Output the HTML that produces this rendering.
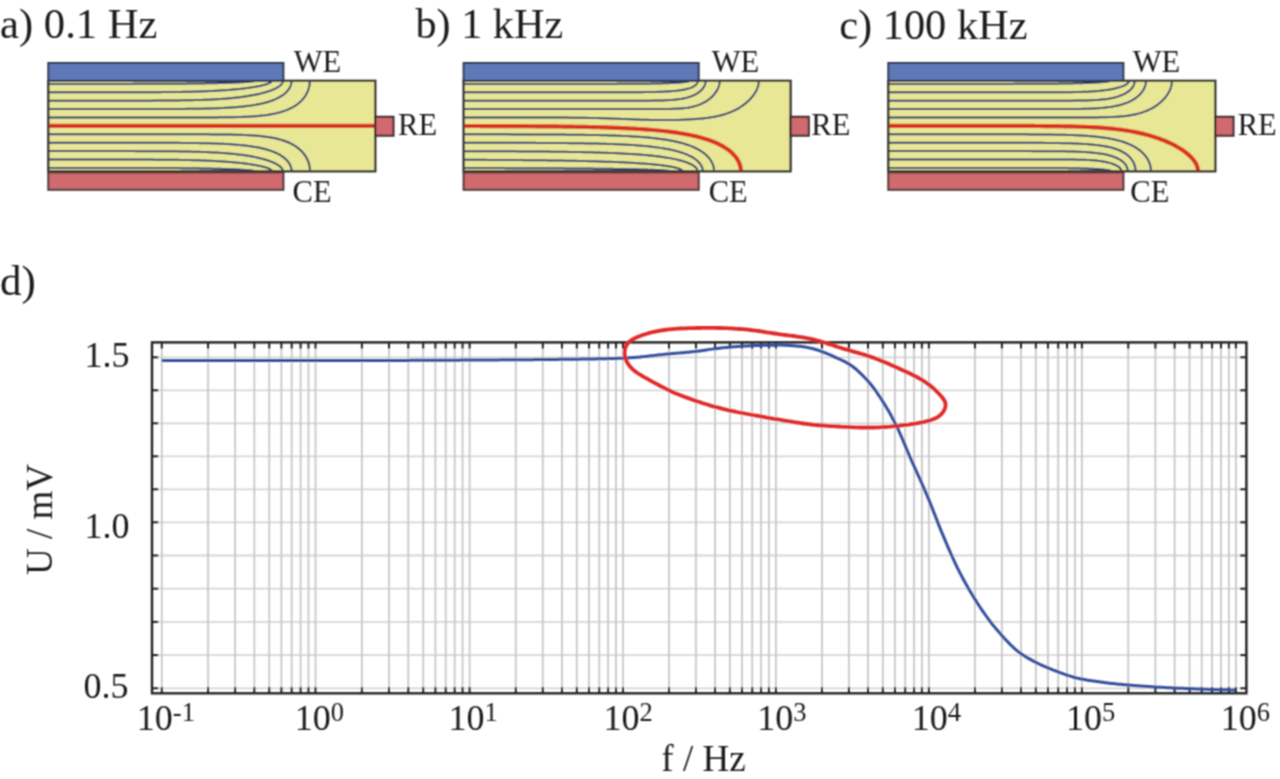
<!DOCTYPE html>
<html><head><meta charset="utf-8"><style>
html,body{margin:0;padding:0;background:#fff;width:1280px;height:779px;overflow:hidden}
svg{display:block}
text{font-family:"Liberation Serif", serif;}
</style></head><body>
<svg width="1280" height="779" viewBox="0 0 1280 779" font-family='"Liberation Serif", serif' fill="#1c1c1c">
<defs><filter id="bl" x="0" y="0" width="1280" height="779" filterUnits="userSpaceOnUse"><feConvolveMatrix order="3" kernelMatrix="1 2 1 2 4 2 1 2 1" divisor="16" edgeMode="duplicate"/></filter><filter id="bt" x="0" y="0" width="1280" height="779" filterUnits="userSpaceOnUse"><feConvolveMatrix order="3" kernelMatrix="1 2 1 2 4 2 1 2 1" divisor="16" edgeMode="duplicate"/></filter></defs>
<rect width="1280" height="779" fill="#fff"/>
<g filter="url(#bl)">
<g transform="translate(0.00,0)">
<rect x="48.3" y="80.8" width="327.00" height="90.50" fill="#e8e795" stroke="#3e3e38" stroke-width="2.0"/>
<clipPath id="clip0"><rect x="48.3" y="80.8" width="327.00" height="90.50"/></clipPath>
<g clip-path="url(#clip0)" fill="none">
<polyline points="48.30,83.90 51.76,83.90 55.19,83.90 58.59,83.90 61.96,83.90 65.30,83.90 68.62,83.90 71.90,83.90 75.16,83.90 78.38,83.90 81.58,83.90 84.75,83.90 87.89,83.90 90.99,83.90 94.07,83.90 97.13,83.90 100.15,83.90 103.14,83.89 106.10,83.89 109.04,83.89 111.94,83.89 114.82,83.89 117.66,83.89 120.48,83.89 123.27,83.88 126.03,83.88 128.76,83.88 131.46,83.88 134.13,83.87 136.77,83.87 139.38,83.86 141.97,83.86 144.52,83.85 147.04,83.85 149.54,83.84 152.01,83.84 154.45,83.83 156.85,83.82 159.23,83.81 161.58,83.80 163.90,83.79 166.20,83.78 168.46,83.77 170.69,83.75 172.90,83.74 175.07,83.73 177.22,83.71 179.33,83.69 181.42,83.68 183.48,83.66 185.51,83.64 187.51,83.62 189.48,83.60 191.42,83.58 193.33,83.55 195.21,83.53 197.07,83.50 198.89,83.48 200.69,83.45 202.45,83.42 204.19,83.39 205.90,83.36 207.58,83.33 209.23,83.30 210.85,83.27 212.44,83.24 214.00,83.20 215.53,83.17 217.03,83.13 218.51,83.09 219.95,83.06 221.37,83.02 222.76,82.98 224.11,82.94 225.44,82.90 226.74,82.86 228.01,82.82 229.25,82.78 230.46,82.73 231.65,82.69 232.80,82.65 233.92,82.60 235.02,82.56 236.08,82.51 237.12,82.47 238.13,82.42 239.10,82.38 240.05,82.33 240.97,82.29 241.86,82.24 242.72,82.19 243.56,82.15 244.36,82.10 245.13,82.05 245.88,82.00 246.59,81.96 247.28,81.91 247.94,81.86 248.56,81.81 249.16,81.77 249.73,81.72 250.27,81.67 250.78,81.62 251.26,81.57 251.72,81.52 252.14,81.48 252.53,81.43 252.90,81.38 253.23,81.33 253.54,81.28 253.82,81.24 254.07,81.19 254.28,81.14 254.47,81.09 254.64,81.04 254.77,80.99 254.87,80.95 254.94,80.90 254.99,80.85 255.00,80.80" stroke="#2a3778" stroke-width="2.0" stroke-linejoin="round"/>
<polyline points="48.30,92.30 52.04,92.30 55.75,92.30 59.42,92.30 63.07,92.30 66.68,92.30 70.26,92.30 73.81,92.30 77.33,92.30 80.81,92.30 84.27,92.30 87.69,92.30 91.08,92.30 94.44,92.30 97.77,92.29 101.07,92.29 104.34,92.29 107.57,92.29 110.77,92.29 113.94,92.29 117.08,92.28 120.19,92.28 123.27,92.28 126.31,92.27 129.32,92.27 132.31,92.26 135.26,92.25 138.17,92.25 141.06,92.24 143.92,92.23 146.74,92.22 149.53,92.20 152.29,92.19 155.02,92.17 157.72,92.16 160.39,92.14 163.02,92.12 165.62,92.09 168.20,92.07 170.74,92.04 173.24,92.01 175.72,91.97 178.17,91.94 180.58,91.90 182.96,91.86 185.31,91.81 187.63,91.76 189.92,91.71 192.17,91.66 194.40,91.60 196.59,91.53 198.75,91.47 200.88,91.40 202.98,91.32 205.05,91.25 207.08,91.16 209.09,91.08 211.06,90.99 213.00,90.90 214.91,90.80 216.78,90.70 218.63,90.59 220.44,90.48 222.23,90.37 223.98,90.26 225.70,90.14 227.39,90.01 229.04,89.89 230.67,89.76 232.26,89.62 233.82,89.49 235.35,89.35 236.85,89.20 238.32,89.06 239.75,88.91 241.16,88.76 242.53,88.60 243.87,88.45 245.18,88.29 246.46,88.13 247.71,87.96 248.92,87.80 250.10,87.63 251.25,87.46 252.37,87.29 253.46,87.12 254.52,86.94 255.55,86.77 256.54,86.59 257.50,86.41 258.43,86.23 259.33,86.05 260.20,85.87 261.04,85.69 261.84,85.50 262.61,85.32 263.35,85.13 264.06,84.95 264.74,84.76 265.39,84.58 266.00,84.39 266.59,84.20 267.14,84.02 267.66,83.83 268.15,83.64 268.61,83.45 269.03,83.26 269.43,83.07 269.79,82.88 270.12,82.70 270.42,82.51 270.69,82.32 270.93,82.13 271.13,81.94 271.31,81.75 271.45,81.56 271.56,81.37 271.64,81.18 271.68,80.99 271.70,80.80" stroke="#2a3778" stroke-width="2.0" stroke-linejoin="round"/>
<polyline points="48.30,100.70 52.23,100.70 56.12,100.70 59.98,100.70 63.81,100.70 67.60,100.70 71.36,100.70 75.09,100.70 78.78,100.70 82.44,100.70 86.07,100.70 89.67,100.70 93.23,100.70 96.76,100.70 100.25,100.70 103.72,100.70 107.14,100.70 110.54,100.69 113.90,100.69 117.23,100.69 120.53,100.69 123.79,100.69 127.02,100.68 130.22,100.68 133.39,100.68 136.52,100.67 139.62,100.67 142.68,100.66 145.71,100.65 148.71,100.64 151.68,100.63 154.61,100.62 157.51,100.61 160.37,100.59 163.21,100.57 166.01,100.55 168.77,100.53 171.51,100.50 174.21,100.48 176.87,100.45 179.51,100.41 182.11,100.37 184.68,100.33 187.21,100.28 189.71,100.23 192.18,100.18 194.62,100.12 197.02,100.05 199.39,99.98 201.72,99.91 204.03,99.82 206.30,99.74 208.53,99.64 210.74,99.54 212.91,99.44 215.04,99.32 217.15,99.20 219.22,99.08 221.26,98.94 223.26,98.80 225.23,98.65 227.17,98.50 229.08,98.34 230.95,98.17 232.79,97.99 234.59,97.81 236.36,97.61 238.10,97.42 239.81,97.21 241.48,97.00 243.12,96.78 244.73,96.55 246.30,96.32 247.85,96.08 249.35,95.83 250.83,95.58 252.27,95.32 253.68,95.06 255.05,94.79 256.39,94.51 257.70,94.23 258.98,93.94 260.22,93.65 261.43,93.35 262.61,93.05 263.75,92.74 264.86,92.43 265.94,92.12 266.98,91.80 267.99,91.48 268.97,91.15 269.91,90.82 270.82,90.49 271.70,90.15 272.55,89.81 273.36,89.47 274.14,89.13 274.88,88.78 275.59,88.43 276.27,88.08 276.92,87.73 277.53,87.37 278.11,87.02 278.66,86.66 279.17,86.30 279.65,85.94 280.10,85.58 280.51,85.21 280.90,84.85 281.24,84.48 281.56,84.12 281.84,83.75 282.09,83.38 282.30,83.02 282.49,82.65 282.63,82.28 282.75,81.91 282.83,81.54 282.88,81.17 282.90,80.80" stroke="#2a3778" stroke-width="2.0" stroke-linejoin="round"/>
<polyline points="48.30,109.10 52.37,109.10 56.41,109.10 60.41,109.10 64.37,109.10 68.31,109.10 72.21,109.10 76.07,109.10 79.90,109.10 83.70,109.10 87.46,109.10 91.18,109.10 94.88,109.10 98.53,109.10 102.16,109.10 105.75,109.10 109.30,109.09 112.82,109.09 116.31,109.09 119.76,109.09 123.18,109.09 126.56,109.09 129.91,109.08 133.23,109.08 136.51,109.08 139.75,109.07 142.96,109.07 146.14,109.07 149.28,109.06 152.39,109.05 155.47,109.05 158.51,109.04 161.51,109.03 164.48,109.02 167.42,109.00 170.32,108.99 173.19,108.97 176.02,108.96 178.82,108.94 181.59,108.91 184.32,108.89 187.01,108.86 189.68,108.83 192.30,108.80 194.90,108.76 197.46,108.72 199.98,108.68 202.47,108.63 204.93,108.57 207.35,108.52 209.73,108.45 212.09,108.38 214.41,108.31 216.69,108.23 218.94,108.14 221.16,108.05 223.34,107.95 225.48,107.84 227.60,107.73 229.67,107.60 231.72,107.47 233.73,107.33 235.70,107.18 237.64,107.02 239.55,106.86 241.42,106.68 243.26,106.49 245.06,106.29 246.83,106.08 248.57,105.86 250.27,105.63 251.93,105.39 253.56,105.13 255.16,104.87 256.72,104.59 258.25,104.30 259.75,104.00 261.21,103.68 262.63,103.36 264.02,103.02 265.38,102.66 266.70,102.30 267.99,101.92 269.24,101.53 270.46,101.13 271.65,100.72 272.80,100.29 273.91,99.85 275.00,99.40 276.04,98.93 277.06,98.46 278.04,97.97 278.98,97.47 279.89,96.96 280.77,96.44 281.61,95.90 282.41,95.36 283.19,94.81 283.93,94.24 284.63,93.67 285.30,93.08 285.94,92.49 286.54,91.89 287.10,91.28 287.64,90.67 288.13,90.04 288.60,89.41 289.03,88.78 289.42,88.13 289.78,87.48 290.11,86.83 290.40,86.17 290.66,85.51 290.88,84.84 291.07,84.17 291.23,83.50 291.35,82.83 291.43,82.15 291.48,81.48 291.50,80.80" stroke="#2a3778" stroke-width="2.0" stroke-linejoin="round"/>
<polyline points="48.30,117.50 52.68,117.50 57.02,117.50 61.32,117.50 65.58,117.50 69.81,117.50 74.00,117.50 78.16,117.50 82.28,117.50 86.36,117.50 90.40,117.50 94.41,117.50 98.38,117.50 102.31,117.50 106.21,117.50 110.07,117.50 113.89,117.50 117.68,117.50 121.43,117.50 125.14,117.50 128.81,117.50 132.45,117.50 136.05,117.50 139.62,117.50 143.14,117.50 146.63,117.50 150.09,117.50 153.50,117.50 156.88,117.50 160.22,117.50 163.53,117.50 166.80,117.50 170.03,117.50 173.22,117.50 176.38,117.49 179.50,117.49 182.59,117.49 185.63,117.49 188.64,117.49 191.62,117.48 194.55,117.48 197.45,117.47 200.31,117.47 203.14,117.46 205.93,117.45 208.68,117.44 211.39,117.42 214.07,117.41 216.71,117.39 219.32,117.37 221.88,117.34 224.41,117.31 226.91,117.28 229.36,117.24 231.78,117.19 234.16,117.14 236.51,117.08 238.82,117.02 241.09,116.94 243.32,116.86 245.52,116.77 247.68,116.67 249.80,116.55 251.89,116.43 253.94,116.29 255.95,116.14 257.93,115.97 259.87,115.79 261.77,115.59 263.63,115.38 265.46,115.15 267.25,114.90 269.01,114.64 270.73,114.35 272.41,114.05 274.05,113.73 275.66,113.38 277.23,113.02 278.76,112.63 280.25,112.23 281.71,111.80 283.13,111.35 284.52,110.88 285.87,110.38 287.18,109.86 288.45,109.33 289.69,108.77 290.89,108.18 292.05,107.58 293.18,106.95 294.27,106.31 295.32,105.64 296.34,104.95 297.32,104.24 298.26,103.51 299.16,102.77 300.03,102.00 300.86,101.22 301.66,100.41 302.41,99.60 303.13,98.76 303.82,97.91 304.46,97.04 305.07,96.16 305.65,95.27 306.18,94.36 306.68,93.45 307.14,92.52 307.57,91.58 307.95,90.63 308.30,89.67 308.62,88.70 308.90,87.73 309.14,86.75 309.34,85.77 309.50,84.78 309.63,83.79 309.73,82.79 309.78,81.80 309.80,80.80" stroke="#2a3778" stroke-width="2.0" stroke-linejoin="round"/>
<polyline points="48.30,167.90 51.76,167.90 55.19,167.90 58.59,167.90 61.96,167.90 65.30,167.90 68.62,167.90 71.90,167.90 75.16,167.90 78.38,167.90 81.58,167.90 84.75,167.90 87.89,167.90 90.99,167.90 94.07,167.90 97.13,167.90 100.15,167.90 103.14,167.91 106.10,167.91 109.04,167.91 111.94,167.91 114.82,167.91 117.66,167.91 120.48,167.91 123.27,167.92 126.03,167.92 128.76,167.92 131.46,167.93 134.13,167.93 136.77,167.93 139.38,167.94 141.97,167.94 144.52,167.95 147.04,167.96 149.54,167.96 152.01,167.97 154.45,167.98 156.85,167.99 159.23,168.00 161.58,168.01 163.90,168.02 166.20,168.03 168.46,168.05 170.69,168.06 172.90,168.07 175.07,168.09 177.22,168.11 179.33,168.12 181.42,168.14 183.48,168.16 185.51,168.18 187.51,168.21 189.48,168.23 191.42,168.25 193.33,168.28 195.21,168.31 197.07,168.33 198.89,168.36 200.69,168.39 202.45,168.42 204.19,168.45 205.90,168.49 207.58,168.52 209.23,168.56 210.85,168.59 212.44,168.63 214.00,168.67 215.53,168.70 217.03,168.74 218.51,168.78 219.95,168.83 221.37,168.87 222.76,168.91 224.11,168.95 225.44,169.00 226.74,169.04 228.01,169.09 229.25,169.13 230.46,169.18 231.65,169.23 232.80,169.27 233.92,169.32 235.02,169.37 236.08,169.42 237.12,169.47 238.13,169.52 239.10,169.57 240.05,169.62 240.97,169.67 241.86,169.72 242.72,169.77 243.56,169.82 244.36,169.88 245.13,169.93 245.88,169.98 246.59,170.03 247.28,170.08 247.94,170.14 248.56,170.19 249.16,170.24 249.73,170.29 250.27,170.35 250.78,170.40 251.26,170.45 251.72,170.50 252.14,170.56 252.53,170.61 252.90,170.66 253.23,170.72 253.54,170.77 253.82,170.82 254.07,170.88 254.28,170.93 254.47,170.98 254.64,171.03 254.77,171.09 254.87,171.14 254.94,171.19 254.99,171.25 255.00,171.30" stroke="#2a3778" stroke-width="2.0" stroke-linejoin="round"/>
<polyline points="48.30,159.50 52.04,159.50 55.76,159.50 59.44,159.50 63.09,159.50 66.70,159.50 70.29,159.50 73.84,159.50 77.37,159.50 80.86,159.50 84.32,159.50 87.74,159.50 91.14,159.50 94.51,159.50 97.84,159.51 101.14,159.51 104.41,159.51 107.65,159.51 110.86,159.51 114.03,159.51 117.17,159.52 120.29,159.52 123.37,159.52 126.42,159.53 129.43,159.53 132.42,159.54 135.37,159.55 138.29,159.55 141.19,159.56 144.05,159.57 146.87,159.58 149.67,159.60 152.43,159.61 155.17,159.63 157.87,159.65 160.54,159.67 163.18,159.69 165.78,159.71 168.36,159.74 170.90,159.77 173.41,159.80 175.89,159.83 178.34,159.87 180.76,159.91 183.14,159.95 185.50,160.00 187.82,160.05 190.11,160.10 192.37,160.16 194.60,160.22 196.79,160.28 198.96,160.35 201.09,160.42 203.19,160.50 205.26,160.58 207.30,160.66 209.30,160.75 211.28,160.84 213.22,160.94 215.13,161.04 217.01,161.14 218.86,161.25 220.68,161.36 222.46,161.47 224.21,161.59 225.94,161.72 227.63,161.84 229.29,161.97 230.91,162.11 232.51,162.24 234.07,162.38 235.60,162.53 237.10,162.67 238.57,162.82 240.01,162.98 241.42,163.13 242.79,163.29 244.13,163.45 245.45,163.61 246.72,163.78 247.97,163.95 249.19,164.12 250.37,164.29 251.53,164.46 252.65,164.64 253.74,164.82 254.80,164.99 255.82,165.18 256.82,165.36 257.78,165.54 258.71,165.72 259.62,165.91 260.48,166.10 261.32,166.28 262.13,166.47 262.90,166.66 263.64,166.85 264.35,167.04 265.03,167.23 265.68,167.42 266.30,167.61 266.88,167.81 267.43,168.00 267.96,168.19 268.45,168.38 268.90,168.58 269.33,168.77 269.73,168.97 270.09,169.16 270.42,169.35 270.72,169.55 270.99,169.74 271.23,169.94 271.43,170.13 271.61,170.33 271.75,170.52 271.86,170.72 271.94,170.91 271.98,171.11 272.00,171.30" stroke="#2a3778" stroke-width="2.0" stroke-linejoin="round"/>
<polyline points="48.30,151.10 52.22,151.10 56.12,151.10 59.97,151.10 63.80,151.10 67.59,151.10 71.35,151.10 75.08,151.10 78.77,151.10 82.43,151.10 86.06,151.10 89.65,151.10 93.21,151.10 96.74,151.10 100.23,151.10 103.69,151.10 107.12,151.10 110.51,151.11 113.88,151.11 117.20,151.11 120.50,151.11 123.76,151.11 126.99,151.12 130.19,151.12 133.35,151.12 136.48,151.13 139.58,151.14 142.64,151.14 145.67,151.15 148.67,151.16 151.63,151.17 154.56,151.18 157.46,151.20 160.33,151.21 163.16,151.23 165.96,151.25 168.72,151.27 171.45,151.30 174.15,151.33 176.82,151.36 179.45,151.39 182.05,151.43 184.62,151.48 187.15,151.52 189.65,151.57 192.12,151.63 194.55,151.69 196.96,151.76 199.32,151.83 201.66,151.91 203.96,151.99 206.23,152.08 208.46,152.17 210.67,152.28 212.84,152.38 214.97,152.50 217.08,152.62 219.15,152.75 221.18,152.89 223.19,153.03 225.16,153.18 227.09,153.34 229.00,153.50 230.87,153.67 232.71,153.85 234.51,154.04 236.28,154.23 238.02,154.44 239.73,154.64 241.40,154.86 243.04,155.08 244.65,155.31 246.22,155.55 247.76,155.79 249.27,156.04 250.74,156.30 252.18,156.56 253.59,156.83 254.96,157.11 256.30,157.39 257.61,157.67 258.89,157.96 260.13,158.26 261.34,158.56 262.51,158.87 263.66,159.18 264.77,159.49 265.84,159.81 266.89,160.14 267.90,160.46 268.87,160.79 269.82,161.13 270.73,161.47 271.61,161.81 272.45,162.15 273.26,162.50 274.04,162.85 274.79,163.20 275.50,163.55 276.18,163.91 276.82,164.27 277.43,164.63 278.01,164.99 278.56,165.35 279.07,165.72 279.55,166.08 280.00,166.45 280.42,166.82 280.80,167.19 281.14,167.56 281.46,167.93 281.74,168.31 281.99,168.68 282.20,169.05 282.39,169.43 282.54,169.80 282.65,170.17 282.73,170.55 282.78,170.92 282.80,171.30" stroke="#2a3778" stroke-width="2.0" stroke-linejoin="round"/>
<polyline points="48.30,142.70 52.37,142.70 56.41,142.70 60.41,142.70 64.38,142.70 68.32,142.70 72.22,142.70 76.08,142.70 79.91,142.70 83.71,142.70 87.47,142.70 91.20,142.70 94.89,142.70 98.55,142.70 102.18,142.70 105.77,142.70 109.33,142.71 112.85,142.71 116.34,142.71 119.79,142.71 123.21,142.71 126.59,142.71 129.94,142.72 133.26,142.72 136.54,142.72 139.79,142.73 143.00,142.73 146.18,142.73 149.32,142.74 152.43,142.75 155.51,142.75 158.55,142.76 161.56,142.77 164.53,142.78 167.47,142.80 170.37,142.81 173.24,142.83 176.08,142.85 178.88,142.87 181.64,142.89 184.37,142.91 187.07,142.94 189.73,142.97 192.36,143.00 194.96,143.04 197.52,143.08 200.04,143.13 202.53,143.18 204.99,143.23 207.41,143.29 209.80,143.35 212.16,143.42 214.47,143.50 216.76,143.58 219.01,143.67 221.23,143.76 223.41,143.86 225.56,143.97 227.67,144.09 229.75,144.21 231.79,144.34 233.80,144.49 235.78,144.64 237.72,144.80 239.63,144.97 241.50,145.15 243.34,145.34 245.14,145.54 246.91,145.75 248.65,145.97 250.35,146.20 252.01,146.45 253.65,146.71 255.25,146.97 256.81,147.26 258.34,147.55 259.83,147.85 261.29,148.17 262.72,148.50 264.11,148.84 265.47,149.20 266.79,149.57 268.08,149.95 269.33,150.34 270.55,150.75 271.74,151.17 272.89,151.60 274.01,152.05 275.09,152.50 276.14,152.97 277.15,153.45 278.13,153.95 279.08,154.45 279.99,154.97 280.86,155.50 281.70,156.03 282.51,156.58 283.28,157.14 284.02,157.71 284.73,158.29 285.40,158.88 286.03,159.48 286.63,160.09 287.20,160.70 287.73,161.33 288.23,161.96 288.70,162.59 289.13,163.24 289.52,163.89 289.88,164.54 290.21,165.20 290.50,165.87 290.76,166.54 290.98,167.21 291.17,167.89 291.33,168.57 291.45,169.25 291.53,169.93 291.58,170.62 291.60,171.30" stroke="#2a3778" stroke-width="2.0" stroke-linejoin="round"/>
<polyline points="48.30,134.30 52.68,134.30 57.02,134.30 61.33,134.30 65.60,134.30 69.83,134.30 74.02,134.30 78.18,134.30 82.30,134.30 86.39,134.30 90.44,134.30 94.45,134.30 98.42,134.30 102.35,134.30 106.25,134.30 110.12,134.30 113.94,134.30 117.73,134.30 121.48,134.30 125.20,134.30 128.87,134.30 132.51,134.30 136.12,134.30 139.69,134.30 143.21,134.30 146.71,134.30 150.16,134.30 153.58,134.30 156.96,134.30 160.31,134.30 163.62,134.30 166.89,134.30 170.12,134.30 173.32,134.30 176.48,134.31 179.60,134.31 182.69,134.31 185.74,134.31 188.75,134.31 191.73,134.32 194.66,134.32 197.57,134.33 200.43,134.33 203.26,134.34 206.05,134.35 208.80,134.36 211.52,134.38 214.20,134.39 216.84,134.41 219.45,134.43 222.02,134.46 224.55,134.49 227.04,134.52 229.50,134.56 231.92,134.61 234.30,134.66 236.65,134.72 238.96,134.78 241.23,134.86 243.47,134.94 245.67,135.04 247.83,135.14 249.96,135.25 252.05,135.38 254.10,135.52 256.11,135.67 258.09,135.84 260.03,136.02 261.93,136.22 263.80,136.43 265.63,136.66 267.42,136.91 269.18,137.18 270.90,137.47 272.58,137.77 274.22,138.10 275.83,138.44 277.40,138.81 278.93,139.20 280.43,139.61 281.89,140.04 283.31,140.50 284.70,140.97 286.05,141.47 287.36,141.99 288.64,142.53 289.87,143.10 291.08,143.69 292.24,144.29 293.37,144.93 294.46,145.58 295.51,146.25 296.53,146.94 297.51,147.66 298.45,148.39 299.36,149.15 300.22,149.92 301.06,150.71 301.85,151.52 302.61,152.34 303.33,153.19 304.01,154.04 304.66,154.92 305.27,155.81 305.84,156.71 306.38,157.62 306.88,158.55 307.34,159.48 307.76,160.43 308.15,161.39 308.50,162.35 308.82,163.33 309.09,164.31 309.33,165.30 309.54,166.29 309.70,167.29 309.83,168.29 309.93,169.29 309.98,170.29 310.00,171.30" stroke="#2a3778" stroke-width="2.0" stroke-linejoin="round"/>
<line x1="48.3" y1="125.9" x2="375.3" y2="125.9" stroke="#dc3024" stroke-width="4.2"/>
</g>
<rect x="48.3" y="80.8" width="327.00" height="90.50" fill="none" stroke="#3e3e38" stroke-width="2.0"/>
<rect x="48.3" y="63.0" width="235.10" height="17.80" fill="#5e78b8" stroke="#333a55" stroke-width="2.0"/>
<rect x="48.3" y="172.4" width="235.10" height="17.4" fill="#d06b6e" stroke="#4a3838" stroke-width="2.0"/>
<rect x="375.3" y="116.8" width="18.2" height="18.9" fill="#d06b6e" stroke="#3a2a2a" stroke-width="2.0"/>
<text x="293.77" y="72.3" font-size="30.5">WE</text>
<text x="398.12" y="135.3" font-size="30.5">RE</text>
<text x="292.55" y="202" font-size="30.5">CE</text>
</g>
<g transform="translate(415.30,0)">
<rect x="48.3" y="80.8" width="327.00" height="90.50" fill="#e8e795" stroke="#3e3e38" stroke-width="2.0"/>
<clipPath id="clip415"><rect x="48.3" y="80.8" width="327.00" height="90.50"/></clipPath>
<g clip-path="url(#clip415)" fill="none">
<polyline points="48.30,83.90 52.09,83.90 55.84,83.90 59.56,83.90 63.25,83.90 66.91,83.90 70.54,83.90 74.13,83.90 77.69,83.90 81.22,83.90 84.72,83.90 88.19,83.90 91.62,83.90 95.02,83.90 98.39,83.90 101.73,83.90 105.04,83.90 108.31,83.90 111.55,83.90 114.77,83.90 117.94,83.90 121.09,83.90 124.21,83.90 127.29,83.90 130.34,83.90 133.36,83.90 136.35,83.90 139.30,83.90 142.22,83.90 145.12,83.90 147.97,83.90 150.80,83.90 153.60,83.90 156.36,83.90 159.09,83.90 161.79,83.90 164.46,83.90 167.09,83.90 169.70,83.90 172.27,83.90 174.81,83.90 177.32,83.90 179.79,83.90 182.24,83.90 184.65,83.89 187.03,83.89 189.38,83.89 191.69,83.89 193.98,83.89 196.23,83.89 198.45,83.88 200.64,83.88 202.80,83.87 204.92,83.87 207.01,83.86 209.07,83.86 211.10,83.85 213.10,83.84 215.06,83.83 217.00,83.82 218.90,83.81 220.77,83.80 222.60,83.79 224.41,83.77 226.18,83.75 227.92,83.74 229.63,83.72 231.31,83.70 232.95,83.67 234.57,83.65 236.15,83.62 237.70,83.60 239.21,83.57 240.70,83.54 242.15,83.50 243.58,83.47 244.97,83.43 246.32,83.39 247.65,83.35 248.94,83.31 250.20,83.27 251.43,83.22 252.63,83.18 253.80,83.13 254.93,83.08 256.03,83.03 257.10,82.98 258.14,82.92 259.15,82.87 260.12,82.81 261.07,82.76 261.98,82.70 262.86,82.64 263.70,82.58 264.52,82.52 265.30,82.45 266.05,82.39 266.77,82.33 267.46,82.26 268.11,82.20 268.73,82.13 269.32,82.06 269.88,82.00 270.41,81.93 270.91,81.86 271.37,81.79 271.80,81.72 272.20,81.65 272.57,81.58 272.90,81.51 273.21,81.44 273.48,81.37 273.72,81.30 273.92,81.23 274.10,81.16 274.24,81.09 274.36,81.01 274.44,80.94 274.48,80.87 274.50,80.80" stroke="#2a3778" stroke-width="2.0" stroke-linejoin="round"/>
<polyline points="48.30,92.30 52.22,92.30 56.11,92.30 59.96,92.30 63.78,92.30 67.57,92.30 71.32,92.30 75.04,92.30 78.73,92.30 82.39,92.30 86.01,92.30 89.60,92.30 93.15,92.30 96.67,92.30 100.16,92.30 103.62,92.30 107.04,92.30 110.43,92.30 113.79,92.30 117.12,92.30 120.41,92.30 123.67,92.30 126.89,92.30 130.08,92.30 133.24,92.30 136.37,92.30 139.46,92.30 142.52,92.30 145.55,92.30 148.54,92.30 151.50,92.30 154.43,92.30 157.32,92.30 160.18,92.30 163.01,92.30 165.81,92.30 168.57,92.30 171.30,92.30 173.99,92.29 176.65,92.29 179.28,92.29 181.88,92.29 184.44,92.29 186.97,92.29 189.47,92.29 191.94,92.28 194.37,92.28 196.77,92.28 199.13,92.27 201.46,92.27 203.76,92.26 206.03,92.26 208.26,92.25 210.46,92.24 212.63,92.24 214.76,92.23 216.86,92.22 218.93,92.20 220.96,92.19 222.96,92.18 224.93,92.16 226.86,92.14 228.77,92.12 230.64,92.10 232.47,92.07 234.27,92.04 236.04,92.01 237.78,91.97 239.48,91.94 241.15,91.89 242.79,91.85 244.40,91.80 245.97,91.74 247.50,91.68 249.01,91.62 250.48,91.55 251.92,91.47 253.33,91.39 254.70,91.30 256.04,91.20 257.35,91.10 258.62,90.99 259.86,90.88 261.07,90.75 262.24,90.62 263.38,90.48 264.49,90.33 265.56,90.18 266.61,90.01 267.62,89.83 268.59,89.65 269.53,89.46 270.44,89.26 271.32,89.04 272.16,88.82 272.97,88.59 273.75,88.35 274.50,88.10 275.21,87.85 275.88,87.58 276.53,87.30 277.14,87.02 277.72,86.72 278.27,86.42 278.78,86.11 279.26,85.80 279.71,85.47 280.12,85.14 280.50,84.80 280.85,84.46 281.16,84.11 281.44,83.75 281.69,83.40 281.90,83.03 282.09,82.67 282.24,82.30 282.35,81.92 282.43,81.55 282.48,81.18 282.50,80.80" stroke="#2a3778" stroke-width="2.0" stroke-linejoin="round"/>
<polyline points="48.30,100.70 52.35,100.70 56.37,100.70 60.35,100.70 64.30,100.70 68.21,100.70 72.09,100.70 75.93,100.70 79.74,100.70 83.52,100.70 87.26,100.70 90.97,100.70 94.65,100.70 98.29,100.70 101.89,100.70 105.46,100.70 109.00,100.70 112.50,100.70 115.97,100.70 119.41,100.70 122.81,100.70 126.18,100.70 129.51,100.70 132.81,100.70 136.07,100.70 139.30,100.70 142.50,100.70 145.66,100.70 148.78,100.70 151.88,100.70 154.94,100.70 157.96,100.70 160.95,100.70 163.91,100.70 166.83,100.70 169.72,100.70 172.57,100.70 175.39,100.70 178.18,100.70 180.93,100.70 183.65,100.70 186.33,100.70 188.98,100.70 191.59,100.70 194.17,100.70 196.72,100.70 199.23,100.70 201.71,100.70 204.15,100.70 206.56,100.70 208.94,100.70 211.28,100.70 213.59,100.70 215.86,100.69 218.10,100.69 220.30,100.69 222.47,100.69 224.61,100.68 226.71,100.68 228.78,100.67 230.81,100.66 232.81,100.65 234.78,100.63 236.71,100.61 238.61,100.59 240.47,100.56 242.30,100.53 244.09,100.49 245.85,100.45 247.58,100.40 249.27,100.34 250.93,100.27 252.55,100.19 254.14,100.10 255.69,99.99 257.22,99.88 258.70,99.75 260.15,99.61 261.57,99.45 262.96,99.28 264.31,99.09 265.62,98.88 266.90,98.66 268.15,98.42 269.37,98.17 270.54,97.89 271.69,97.60 272.80,97.29 273.88,96.97 274.92,96.62 275.93,96.26 276.90,95.89 277.84,95.49 278.75,95.08 279.62,94.66 280.46,94.22 281.26,93.77 282.03,93.30 282.76,92.82 283.46,92.33 284.13,91.82 284.76,91.30 285.36,90.78 285.93,90.24 286.45,89.69 286.95,89.14 287.41,88.57 287.84,88.00 288.23,87.43 288.59,86.84 288.92,86.25 289.21,85.66 289.46,85.06 289.68,84.46 289.87,83.85 290.03,83.25 290.15,82.64 290.23,82.03 290.28,81.41 290.30,80.80" stroke="#2a3778" stroke-width="2.0" stroke-linejoin="round"/>
<polyline points="48.30,109.10 52.59,109.10 56.84,109.10 61.05,109.10 65.23,109.10 69.37,109.10 73.47,109.10 77.54,109.10 81.58,109.10 85.57,109.10 89.53,109.10 93.46,109.10 97.35,109.10 101.20,109.10 105.01,109.10 108.79,109.10 112.54,109.10 116.24,109.10 119.92,109.10 123.55,109.10 127.15,109.10 130.71,109.10 134.24,109.10 137.73,109.10 141.18,109.10 144.60,109.10 147.98,109.10 151.33,109.10 154.64,109.10 157.91,109.10 161.15,109.10 164.35,109.10 167.52,109.10 170.64,109.10 173.74,109.10 176.79,109.10 179.81,109.10 182.80,109.10 185.75,109.10 188.66,109.10 191.53,109.10 194.37,109.10 197.17,109.10 199.94,109.10 202.67,109.10 205.37,109.10 208.03,109.10 210.65,109.10 213.23,109.10 215.78,109.10 218.30,109.10 220.78,109.10 223.22,109.10 225.62,109.10 227.99,109.10 230.32,109.10 232.62,109.09 234.88,109.09 237.11,109.09 239.29,109.08 241.45,109.08 243.56,109.07 245.64,109.05 247.69,109.04 249.69,109.02 251.66,108.99 253.60,108.95 255.50,108.91 257.36,108.86 259.19,108.79 260.98,108.71 262.73,108.62 264.45,108.51 266.13,108.38 267.78,108.23 269.39,108.06 270.96,107.87 272.50,107.65 274.00,107.40 275.46,107.13 276.89,106.82 278.29,106.49 279.64,106.14 280.96,105.75 282.25,105.33 283.49,104.88 284.71,104.41 285.88,103.91 287.02,103.38 288.12,102.83 289.19,102.25 290.22,101.65 291.22,101.03 292.17,100.39 293.10,99.73 293.98,99.05 294.83,98.36 295.65,97.65 296.42,96.93 297.17,96.20 297.87,95.47 298.54,94.72 299.17,93.96 299.77,93.21 300.33,92.44 300.86,91.67 301.34,90.90 301.80,90.13 302.21,89.35 302.59,88.57 302.94,87.80 303.24,87.02 303.51,86.24 303.75,85.46 303.95,84.69 304.11,83.91 304.24,83.13 304.33,82.35 304.38,81.58 304.40,80.80" stroke="#2a3778" stroke-width="2.0" stroke-linejoin="round"/>
<polyline points="48.30,117.50 53.24,117.50 58.14,117.50 63.00,117.50 67.81,117.50 72.59,117.50 77.32,117.50 82.01,117.50 86.66,117.50 91.26,117.50 95.83,117.50 100.35,117.50 104.83,117.50 109.27,117.50 113.67,117.51 118.03,117.51 122.34,117.51 126.62,117.52 130.85,117.52 135.04,117.53 139.19,117.54 143.30,117.56 147.36,117.58 151.38,117.60 155.36,117.63 159.30,117.67 163.20,117.72 167.06,117.77 170.87,117.83 174.65,117.90 178.38,117.98 182.07,118.07 185.72,118.16 189.32,118.27 192.89,118.38 196.41,118.51 199.89,118.63 203.33,118.77 206.73,118.90 210.09,119.04 213.40,119.17 216.67,119.30 219.90,119.43 223.09,119.55 226.24,119.66 229.35,119.76 232.41,119.85 235.43,119.92 238.42,119.98 241.35,120.03 244.25,120.07 247.11,120.08 249.92,120.09 252.69,120.08 255.43,120.05 258.11,120.01 260.76,119.95 263.37,119.88 265.93,119.80 268.45,119.71 270.94,119.60 273.37,119.48 275.77,119.34 278.13,119.19 280.44,119.02 282.71,118.84 284.94,118.64 287.13,118.42 289.28,118.18 291.39,117.93 293.45,117.65 295.47,117.34 297.45,117.02 299.39,116.66 301.29,116.29 303.14,115.88 304.96,115.44 306.73,114.98 308.46,114.49 310.15,113.97 311.79,113.42 313.40,112.84 314.96,112.23 316.48,111.60 317.96,110.94 319.40,110.25 320.80,109.54 322.15,108.81 323.47,108.05 324.74,107.28 325.97,106.48 327.16,105.67 328.30,104.84 329.41,104.00 330.47,103.15 331.49,102.28 332.47,101.41 333.41,100.53 334.31,99.64 335.16,98.74 335.97,97.85 336.75,96.94 337.48,96.04 338.16,95.14 338.81,94.23 339.41,93.32 339.98,92.42 340.50,91.52 340.98,90.61 341.42,89.71 341.81,88.82 342.17,87.92 342.48,87.02 342.75,86.13 342.98,85.24 343.17,84.35 343.31,83.46 343.42,82.57 343.48,81.69 343.50,80.80" stroke="#2a3778" stroke-width="2.0" stroke-linejoin="round"/>
<polyline points="48.30,168.03 51.76,168.04 55.19,168.04 58.59,168.05 61.96,168.06 65.30,168.06 68.62,168.07 71.90,168.08 75.16,168.08 78.38,168.09 81.58,168.10 84.75,168.11 87.89,168.12 90.99,168.13 94.07,168.14 97.13,168.15 100.15,168.15 103.14,168.17 106.10,168.18 109.04,168.19 111.94,168.20 114.82,168.21 117.66,168.22 120.48,168.23 123.27,168.25 126.03,168.26 128.76,168.27 131.46,168.28 134.13,168.30 136.77,168.31 139.38,168.33 141.97,168.34 144.52,168.36 147.04,168.37 149.54,168.39 152.01,168.41 154.45,168.42 156.85,168.44 159.23,168.46 161.58,168.48 163.90,168.50 166.20,168.52 168.46,168.54 170.69,168.56 172.90,168.58 175.07,168.60 177.22,168.62 179.33,168.64 181.42,168.66 183.48,168.69 185.51,168.71 187.51,168.73 189.48,168.76 191.42,168.78 193.33,168.81 195.21,168.83 197.07,168.86 198.89,168.89 200.69,168.91 202.45,168.94 204.19,168.97 205.90,169.00 207.58,169.03 209.23,169.06 210.85,169.09 212.44,169.12 214.00,169.15 215.53,169.18 217.03,169.21 218.51,169.24 219.95,169.28 221.37,169.31 222.76,169.34 224.11,169.38 225.44,169.41 226.74,169.45 228.01,169.48 229.25,169.52 230.46,169.55 231.65,169.59 232.80,169.63 233.92,169.66 235.02,169.70 236.08,169.74 237.12,169.78 238.13,169.82 239.10,169.86 240.05,169.90 240.97,169.94 241.86,169.98 242.72,170.02 243.56,170.06 244.36,170.10 245.13,170.14 245.88,170.18 246.59,170.23 247.28,170.27 247.94,170.31 248.56,170.35 249.16,170.40 249.73,170.44 250.27,170.49 250.78,170.53 251.26,170.57 251.72,170.62 252.14,170.66 252.53,170.71 252.90,170.75 253.23,170.80 253.54,170.84 253.82,170.89 254.07,170.93 254.28,170.98 254.47,171.02 254.64,171.07 254.77,171.12 254.87,171.16 254.94,171.21 254.99,171.25 255.00,171.30" stroke="#2a3778" stroke-width="2.0" stroke-linejoin="round"/>
<polyline points="48.30,159.76 51.96,159.78 55.60,159.79 59.20,159.81 62.77,159.82 66.31,159.84 69.82,159.86 73.30,159.88 76.74,159.89 80.16,159.92 83.54,159.94 86.90,159.96 90.22,159.98 93.51,160.00 96.78,160.03 100.01,160.05 103.21,160.08 106.38,160.11 109.51,160.14 112.62,160.17 115.70,160.20 118.74,160.23 121.76,160.26 124.74,160.30 127.69,160.33 130.61,160.37 133.50,160.41 136.36,160.45 139.19,160.49 141.99,160.53 144.76,160.58 147.49,160.62 150.20,160.67 152.87,160.71 155.52,160.76 158.13,160.82 160.71,160.87 163.26,160.92 165.78,160.98 168.27,161.04 170.73,161.09 173.15,161.16 175.55,161.22 177.91,161.28 180.25,161.35 182.55,161.42 184.82,161.49 187.07,161.56 189.28,161.63 191.46,161.71 193.60,161.78 195.72,161.86 197.81,161.94 199.87,162.02 201.89,162.11 203.88,162.20 205.85,162.28 207.78,162.37 209.68,162.47 211.55,162.56 213.39,162.66 215.20,162.76 216.98,162.86 218.72,162.96 220.44,163.06 222.12,163.17 223.78,163.28 225.40,163.39 226.99,163.50 228.56,163.61 230.09,163.73 231.58,163.85 233.05,163.97 234.49,164.09 235.90,164.21 237.27,164.34 238.62,164.47 239.93,164.60 241.22,164.73 242.47,164.86 243.69,165.00 244.88,165.13 246.04,165.27 247.17,165.41 248.26,165.56 249.33,165.70 250.37,165.84 251.37,165.99 252.34,166.14 253.29,166.29 254.20,166.44 255.08,166.60 255.93,166.75 256.75,166.91 257.54,167.06 258.30,167.22 259.02,167.38 259.72,167.54 260.38,167.71 261.02,167.87 261.62,168.03 262.19,168.20 262.73,168.37 263.24,168.53 263.72,168.70 264.17,168.87 264.59,169.04 264.97,169.21 265.33,169.38 265.65,169.56 265.95,169.73 266.21,169.90 266.44,170.08 266.64,170.25 266.81,170.42 266.95,170.60 267.06,170.77 267.14,170.95 267.18,171.12 267.20,171.30" stroke="#2a3778" stroke-width="2.0" stroke-linejoin="round"/>
<polyline points="48.30,151.19 52.21,151.20 56.10,151.21 59.94,151.22 63.76,151.23 67.54,151.24 71.29,151.25 75.01,151.26 78.69,151.27 82.34,151.29 85.96,151.30 89.54,151.32 93.09,151.33 96.61,151.35 100.10,151.37 103.55,151.39 106.97,151.41 110.36,151.43 113.71,151.45 117.03,151.47 120.31,151.50 123.57,151.53 126.79,151.56 129.98,151.59 133.13,151.62 136.25,151.65 139.34,151.69 142.40,151.73 145.42,151.77 148.41,151.81 151.37,151.85 154.29,151.90 157.18,151.95 160.04,152.00 162.86,152.05 165.65,152.11 168.41,152.17 171.14,152.23 173.83,152.29 176.49,152.36 179.12,152.43 181.71,152.50 184.27,152.58 186.80,152.66 189.29,152.74 191.75,152.83 194.18,152.92 196.57,153.01 198.94,153.11 201.27,153.21 203.56,153.32 205.82,153.43 208.05,153.54 210.25,153.66 212.41,153.78 214.55,153.91 216.64,154.04 218.71,154.17 220.74,154.31 222.74,154.45 224.70,154.60 226.64,154.75 228.54,154.91 230.40,155.08 232.24,155.24 234.04,155.42 235.80,155.59 237.54,155.78 239.24,155.96 240.91,156.15 242.54,156.35 244.14,156.55 245.71,156.76 247.25,156.97 248.75,157.19 250.22,157.42 251.66,157.64 253.06,157.88 254.43,158.11 255.77,158.36 257.08,158.61 258.35,158.86 259.59,159.12 260.79,159.38 261.97,159.65 263.11,159.92 264.21,160.20 265.29,160.48 266.33,160.76 267.33,161.06 268.31,161.35 269.25,161.65 270.16,161.96 271.03,162.26 271.88,162.58 272.69,162.89 273.46,163.21 274.21,163.54 274.92,163.86 275.59,164.19 276.24,164.53 276.85,164.86 277.43,165.20 277.97,165.55 278.48,165.89 278.96,166.24 279.41,166.59 279.82,166.95 280.20,167.30 280.55,167.66 280.86,168.02 281.14,168.38 281.39,168.74 281.61,169.10 281.79,169.47 281.94,169.83 282.05,170.20 282.13,170.57 282.18,170.93 282.20,171.30" stroke="#2a3778" stroke-width="2.0" stroke-linejoin="round"/>
<polyline points="48.30,142.73 52.30,142.73 56.27,142.73 60.21,142.74 64.11,142.74 67.98,142.74 71.81,142.75 75.61,142.75 79.38,142.76 83.11,142.77 86.81,142.77 90.48,142.78 94.11,142.79 97.71,142.80 101.27,142.81 104.80,142.82 108.30,142.83 111.76,142.84 115.19,142.85 118.59,142.87 121.95,142.88 125.27,142.90 128.57,142.92 131.83,142.94 135.05,142.96 138.25,142.98 141.41,143.01 144.53,143.03 147.62,143.06 150.68,143.09 153.70,143.13 156.69,143.16 159.65,143.20 162.57,143.24 165.46,143.28 168.31,143.33 171.13,143.38 173.92,143.43 176.68,143.48 179.39,143.54 182.08,143.61 184.73,143.67 187.35,143.74 189.93,143.82 192.49,143.90 195.00,143.98 197.49,144.07 199.93,144.16 202.35,144.26 204.73,144.37 207.08,144.48 209.39,144.59 211.67,144.72 213.92,144.84 216.13,144.98 218.31,145.12 220.46,145.26 222.57,145.42 224.65,145.58 226.69,145.75 228.70,145.93 230.68,146.11 232.62,146.30 234.53,146.50 236.40,146.71 238.24,146.92 240.05,147.15 241.83,147.38 243.57,147.62 245.27,147.87 246.94,148.13 248.58,148.40 250.19,148.68 251.76,148.97 253.29,149.27 254.80,149.57 256.27,149.89 257.70,150.22 259.11,150.55 260.47,150.90 261.81,151.25 263.11,151.62 264.38,151.99 265.61,152.37 266.81,152.77 267.97,153.17 269.11,153.58 270.20,154.01 271.27,154.44 272.30,154.88 273.29,155.33 274.26,155.79 275.19,156.25 276.08,156.73 276.94,157.21 277.77,157.71 278.56,158.21 279.32,158.72 280.05,159.23 280.74,159.76 281.40,160.29 282.03,160.83 282.62,161.37 283.18,161.92 283.70,162.48 284.19,163.04 284.65,163.61 285.07,164.18 285.46,164.76 285.81,165.34 286.13,165.92 286.42,166.51 286.67,167.10 286.89,167.70 287.08,168.29 287.23,168.89 287.35,169.49 287.43,170.09 287.48,170.70 287.50,171.30" stroke="#2a3778" stroke-width="2.0" stroke-linejoin="round"/>
<polyline points="48.30,134.32 52.49,134.32 56.65,134.33 60.77,134.33 64.86,134.33 68.91,134.34 72.92,134.34 76.90,134.35 80.85,134.35 84.76,134.36 88.63,134.36 92.47,134.37 96.27,134.38 100.04,134.39 103.77,134.40 107.47,134.41 111.13,134.42 114.76,134.43 118.35,134.44 121.91,134.46 125.43,134.47 128.91,134.49 132.36,134.51 135.77,134.53 139.15,134.55 142.50,134.57 145.80,134.60 149.08,134.62 152.31,134.65 155.52,134.69 158.68,134.72 161.81,134.76 164.91,134.80 167.97,134.84 170.99,134.89 173.98,134.94 176.94,134.99 179.86,135.05 182.74,135.11 185.59,135.18 188.40,135.25 191.18,135.32 193.92,135.40 196.63,135.49 199.30,135.58 201.93,135.68 204.53,135.78 207.10,135.89 209.63,136.00 212.12,136.12 214.58,136.25 217.00,136.39 219.39,136.53 221.74,136.68 224.06,136.84 226.34,137.01 228.59,137.19 230.80,137.37 232.98,137.57 235.12,137.77 237.22,137.99 239.29,138.21 241.33,138.45 243.33,138.69 245.29,138.95 247.22,139.22 249.11,139.49 250.97,139.79 252.79,140.09 254.58,140.40 256.33,140.73 258.04,141.07 259.72,141.42 261.37,141.78 262.98,142.16 264.55,142.55 266.09,142.96 267.60,143.37 269.06,143.80 270.50,144.25 271.89,144.70 273.26,145.17 274.58,145.66 275.87,146.16 277.13,146.67 278.35,147.19 279.54,147.73 280.69,148.28 281.80,148.84 282.88,149.42 283.92,150.01 284.93,150.61 285.90,151.23 286.84,151.86 287.74,152.50 288.61,153.15 289.44,153.81 290.24,154.48 291.00,155.17 291.72,155.86 292.41,156.57 293.07,157.28 293.69,158.01 294.27,158.74 294.82,159.48 295.33,160.23 295.81,160.99 296.25,161.76 296.66,162.53 297.03,163.31 297.37,164.09 297.67,164.88 297.93,165.67 298.16,166.47 298.36,167.27 298.52,168.07 298.64,168.88 298.73,169.68 298.78,170.49 298.80,171.30" stroke="#2a3778" stroke-width="2.0" stroke-linejoin="round"/>
<polyline points="48.30,125.99 52.94,126.00 57.54,126.01 62.11,126.02 66.63,126.03 71.11,126.04 75.56,126.05 79.96,126.07 84.33,126.08 88.66,126.10 92.95,126.12 97.20,126.14 101.41,126.16 105.58,126.18 109.71,126.20 113.80,126.23 117.86,126.26 121.87,126.29 125.84,126.32 129.78,126.35 133.68,126.39 137.53,126.43 141.35,126.47 145.13,126.52 148.87,126.57 152.57,126.62 156.24,126.67 159.86,126.73 163.44,126.80 166.99,126.86 170.49,126.93 173.96,127.01 177.38,127.09 180.77,127.17 184.12,127.26 187.43,127.36 190.70,127.46 193.93,127.56 197.12,127.67 200.28,127.79 203.39,127.91 206.46,128.05 209.50,128.18 212.49,128.33 215.45,128.48 218.37,128.64 221.25,128.81 224.09,128.99 226.89,129.17 229.65,129.36 232.37,129.57 235.05,129.78 237.70,130.00 240.30,130.23 242.87,130.47 245.39,130.72 247.88,130.98 250.33,131.25 252.74,131.54 255.10,131.83 257.44,132.14 259.73,132.45 261.98,132.78 264.19,133.12 266.36,133.47 268.50,133.84 270.59,134.22 272.65,134.61 274.67,135.01 276.65,135.43 278.58,135.86 280.48,136.30 282.34,136.75 284.16,137.22 285.95,137.71 287.69,138.20 289.39,138.71 291.06,139.23 292.68,139.77 294.27,140.32 295.82,140.88 297.32,141.46 298.79,142.05 300.22,142.66 301.61,143.27 302.96,143.90 304.28,144.55 305.55,145.20 306.78,145.87 307.98,146.56 309.13,147.25 310.25,147.96 311.32,148.67 312.36,149.40 313.36,150.15 314.32,150.90 315.24,151.66 316.12,152.43 316.96,153.22 317.77,154.01 318.53,154.82 319.26,155.63 319.94,156.45 320.59,157.28 321.19,158.11 321.76,158.96 322.29,159.81 322.78,160.67 323.23,161.53 323.64,162.40 324.01,163.28 324.35,164.16 324.64,165.04 324.90,165.93 325.11,166.82 325.29,167.71 325.42,168.61 325.52,169.50 325.58,170.40 325.60,171.30" stroke="#dc3024" stroke-width="4.2" stroke-linejoin="round"/>
</g>
<rect x="48.3" y="80.8" width="327.00" height="90.50" fill="none" stroke="#3e3e38" stroke-width="2.0"/>
<rect x="48.3" y="63.0" width="235.10" height="17.80" fill="#5e78b8" stroke="#333a55" stroke-width="2.0"/>
<rect x="48.3" y="172.4" width="235.10" height="17.4" fill="#d06b6e" stroke="#4a3838" stroke-width="2.0"/>
<rect x="375.3" y="116.8" width="18.2" height="18.9" fill="#d06b6e" stroke="#3a2a2a" stroke-width="2.0"/>
<text x="296.47" y="72.3" font-size="30.5">WE</text>
<text x="396.02" y="135.3" font-size="30.5">RE</text>
<text x="293.45" y="202" font-size="30.5">CE</text>
</g>
<g transform="translate(840.00,0)">
<rect x="48.3" y="80.8" width="327.00" height="90.50" fill="#e8e795" stroke="#3e3e38" stroke-width="2.0"/>
<clipPath id="clip840"><rect x="48.3" y="80.8" width="327.00" height="90.50"/></clipPath>
<g clip-path="url(#clip840)" fill="none">
<polyline points="48.30,83.90 52.01,83.90 55.69,83.90 59.34,83.90 62.95,83.90 66.54,83.90 70.09,83.90 73.62,83.90 77.11,83.90 80.57,83.90 83.99,83.90 87.39,83.90 90.76,83.90 94.09,83.90 97.40,83.90 100.67,83.90 103.91,83.90 107.12,83.90 110.30,83.90 113.44,83.90 116.56,83.90 119.64,83.90 122.70,83.90 125.72,83.90 128.71,83.90 131.67,83.90 134.59,83.90 137.49,83.90 140.36,83.90 143.19,83.90 145.99,83.90 148.76,83.90 151.50,83.89 154.21,83.89 156.89,83.89 159.53,83.89 162.15,83.89 164.73,83.89 167.28,83.88 169.80,83.88 172.29,83.88 174.75,83.87 177.18,83.87 179.57,83.86 181.94,83.86 184.27,83.85 186.57,83.85 188.84,83.84 191.08,83.83 193.29,83.82 195.46,83.81 197.61,83.80 199.72,83.79 201.80,83.78 203.85,83.77 205.87,83.75 207.86,83.74 209.82,83.72 211.75,83.70 213.64,83.68 215.50,83.66 217.33,83.64 219.13,83.62 220.90,83.60 222.64,83.57 224.35,83.54 226.02,83.52 227.67,83.49 229.28,83.46 230.86,83.43 232.41,83.39 233.93,83.36 235.42,83.32 236.87,83.29 238.30,83.25 239.69,83.21 241.05,83.17 242.38,83.13 243.68,83.09 244.95,83.05 246.19,83.00 247.39,82.96 248.57,82.91 249.71,82.86 250.82,82.81 251.90,82.77 252.95,82.72 253.97,82.66 254.95,82.61 255.91,82.56 256.83,82.51 257.73,82.45 258.59,82.40 259.42,82.35 260.22,82.29 260.98,82.23 261.72,82.18 262.42,82.12 263.10,82.06 263.74,82.01 264.35,81.95 264.93,81.89 265.48,81.83 265.99,81.77 266.48,81.71 266.93,81.65 267.35,81.59 267.75,81.53 268.11,81.47 268.43,81.41 268.73,81.35 269.00,81.29 269.23,81.23 269.44,81.17 269.61,81.11 269.75,81.05 269.86,80.98 269.94,80.92 269.98,80.86 270.00,80.80" stroke="#2a3778" stroke-width="2.0" stroke-linejoin="round"/>
<polyline points="48.30,92.30 52.33,92.30 56.32,92.30 60.28,92.30 64.21,92.30 68.10,92.30 71.96,92.30 75.78,92.30 79.58,92.30 83.33,92.30 87.05,92.30 90.74,92.30 94.40,92.30 98.02,92.30 101.60,92.30 105.16,92.30 108.67,92.30 112.16,92.30 115.61,92.30 119.03,92.30 122.41,92.30 125.76,92.30 129.07,92.30 132.35,92.30 135.60,92.30 138.81,92.30 141.99,92.30 145.13,92.30 148.24,92.30 151.32,92.30 154.36,92.30 157.37,92.30 160.35,92.30 163.29,92.30 166.19,92.30 169.07,92.30 171.90,92.30 174.71,92.30 177.48,92.30 180.22,92.30 182.92,92.30 185.59,92.30 188.22,92.30 190.82,92.30 193.39,92.30 195.92,92.30 198.42,92.29 200.89,92.29 203.32,92.29 205.71,92.29 208.08,92.28 210.40,92.28 212.70,92.27 214.96,92.26 217.19,92.26 219.38,92.24 221.54,92.23 223.66,92.22 225.75,92.20 227.81,92.18 229.83,92.15 231.82,92.13 233.78,92.09 235.70,92.06 237.58,92.01 239.44,91.97 241.25,91.92 243.04,91.86 244.79,91.79 246.51,91.72 248.19,91.64 249.84,91.56 251.45,91.47 253.03,91.37 254.58,91.26 256.09,91.15 257.57,91.03 259.02,90.89 260.43,90.76 261.80,90.61 263.15,90.46 264.46,90.30 265.73,90.13 266.97,89.95 268.18,89.77 269.35,89.58 270.49,89.38 271.59,89.18 272.67,88.97 273.70,88.75 274.71,88.53 275.67,88.31 276.61,88.07 277.51,87.84 278.38,87.60 279.21,87.35 280.01,87.10 280.77,86.85 281.50,86.59 282.20,86.33 282.86,86.07 283.49,85.81 284.09,85.54 284.65,85.27 285.18,85.00 285.67,84.73 286.13,84.45 286.55,84.18 286.94,83.90 287.30,83.62 287.62,83.34 287.91,83.06 288.17,82.78 288.39,82.50 288.58,82.22 288.73,81.93 288.85,81.65 288.93,81.37 288.98,81.08 289.00,80.80" stroke="#2a3778" stroke-width="2.0" stroke-linejoin="round"/>
<polyline points="48.30,100.70 52.42,100.70 56.51,100.70 60.57,100.70 64.59,100.70 68.57,100.70 72.52,100.70 76.44,100.70 80.32,100.70 84.16,100.70 87.97,100.70 91.75,100.70 95.49,100.70 99.19,100.70 102.87,100.70 106.50,100.70 110.10,100.70 113.67,100.70 117.20,100.70 120.70,100.70 124.16,100.70 127.59,100.70 130.98,100.70 134.34,100.70 137.67,100.70 140.95,100.70 144.21,100.70 147.43,100.70 150.61,100.70 153.76,100.70 156.88,100.70 159.96,100.70 163.00,100.70 166.01,100.70 168.99,100.70 171.93,100.70 174.83,100.70 177.70,100.70 180.54,100.70 183.34,100.70 186.11,100.70 188.84,100.70 191.54,100.70 194.20,100.70 196.83,100.70 199.42,100.70 201.98,100.70 204.50,100.70 206.99,100.70 209.44,100.70 211.86,100.69 214.24,100.69 216.59,100.69 218.91,100.69 221.19,100.68 223.43,100.68 225.64,100.67 227.81,100.66 229.95,100.65 232.06,100.64 234.13,100.62 236.17,100.60 238.17,100.58 240.13,100.55 242.07,100.52 243.96,100.48 245.82,100.44 247.65,100.38 249.44,100.32 251.20,100.26 252.92,100.18 254.61,100.09 256.26,99.99 257.88,99.88 259.47,99.76 261.01,99.62 262.53,99.48 264.01,99.31 265.45,99.14 266.86,98.94 268.23,98.74 269.57,98.51 270.88,98.28 272.15,98.02 273.39,97.75 274.59,97.46 275.75,97.16 276.88,96.84 277.98,96.51 279.04,96.16 280.07,95.79 281.06,95.41 282.02,95.02 282.94,94.61 283.83,94.19 284.68,93.76 285.50,93.31 286.28,92.85 287.03,92.38 287.74,91.89 288.42,91.40 289.06,90.90 289.67,90.39 290.25,89.87 290.79,89.34 291.29,88.80 291.76,88.26 292.19,87.71 292.59,87.15 292.96,86.59 293.29,86.03 293.59,85.46 293.85,84.88 294.07,84.31 294.27,83.73 294.42,83.14 294.54,82.56 294.63,81.97 294.68,81.39 294.70,80.80" stroke="#2a3778" stroke-width="2.0" stroke-linejoin="round"/>
<polyline points="48.30,109.10 52.61,109.10 56.89,109.10 61.12,109.10 65.33,109.10 69.49,109.10 73.62,109.10 77.71,109.10 81.77,109.10 85.79,109.10 89.78,109.10 93.72,109.10 97.63,109.10 101.51,109.10 105.35,109.10 109.15,109.10 112.91,109.10 116.64,109.10 120.34,109.10 123.99,109.10 127.61,109.10 131.20,109.10 134.74,109.10 138.25,109.10 141.73,109.10 145.17,109.10 148.57,109.10 151.93,109.10 155.26,109.10 158.55,109.10 161.81,109.10 165.03,109.10 168.21,109.10 171.36,109.10 174.47,109.10 177.55,109.10 180.58,109.10 183.59,109.10 186.55,109.10 189.48,109.10 192.37,109.10 195.23,109.10 198.05,109.10 200.83,109.10 203.58,109.09 206.29,109.09 208.96,109.09 211.60,109.09 214.20,109.08 216.77,109.08 219.29,109.07 221.79,109.06 224.24,109.05 226.66,109.04 229.04,109.03 231.39,109.01 233.70,108.99 235.97,108.96 238.21,108.93 240.41,108.89 242.58,108.85 244.71,108.80 246.80,108.74 248.85,108.67 250.87,108.60 252.86,108.51 254.80,108.41 256.71,108.30 258.59,108.18 260.42,108.04 262.22,107.89 263.99,107.73 265.72,107.54 267.41,107.34 269.06,107.13 270.68,106.89 272.27,106.64 273.81,106.37 275.32,106.08 276.79,105.77 278.23,105.44 279.63,105.09 281.00,104.72 282.32,104.33 283.62,103.92 284.87,103.49 286.09,103.04 287.27,102.58 288.42,102.09 289.53,101.58 290.60,101.06 291.64,100.52 292.64,99.96 293.60,99.39 294.53,98.80 295.42,98.20 296.28,97.58 297.10,96.95 297.88,96.30 298.62,95.64 299.33,94.97 300.01,94.29 300.64,93.59 301.24,92.89 301.81,92.18 302.33,91.46 302.83,90.73 303.28,89.99 303.70,89.25 304.08,88.50 304.43,87.75 304.74,86.99 305.01,86.22 305.25,85.46 305.45,84.68 305.61,83.91 305.74,83.13 305.83,82.36 305.88,81.58 305.90,80.80" stroke="#2a3778" stroke-width="2.0" stroke-linejoin="round"/>
<polyline points="48.30,117.50 53.05,117.50 57.75,117.50 62.42,117.50 67.05,117.50 71.63,117.50 76.18,117.50 80.68,117.50 85.15,117.50 89.58,117.50 93.96,117.50 98.31,117.50 102.61,117.50 106.88,117.50 111.10,117.50 115.29,117.50 119.44,117.50 123.54,117.50 127.61,117.50 131.63,117.50 135.62,117.50 139.56,117.50 143.47,117.50 147.33,117.50 151.16,117.50 154.94,117.50 158.69,117.50 162.39,117.50 166.06,117.50 169.68,117.50 173.27,117.50 176.81,117.50 180.32,117.50 183.78,117.50 187.21,117.50 190.59,117.50 193.94,117.50 197.24,117.50 200.50,117.50 203.73,117.50 206.91,117.50 210.06,117.50 213.16,117.50 216.23,117.50 219.25,117.50 222.23,117.50 225.18,117.50 228.08,117.50 230.94,117.49 233.77,117.49 236.55,117.49 239.30,117.48 242.00,117.48 244.66,117.47 247.29,117.46 249.87,117.45 252.41,117.43 254.92,117.41 257.38,117.38 259.80,117.35 262.19,117.31 264.53,117.26 266.83,117.19 269.10,117.12 271.32,117.04 273.50,116.94 275.64,116.82 277.75,116.68 279.81,116.53 281.83,116.35 283.82,116.15 285.76,115.93 287.66,115.68 289.52,115.41 291.35,115.11 293.13,114.78 294.87,114.42 296.57,114.03 298.23,113.61 299.86,113.16 301.44,112.68 302.98,112.17 304.48,111.63 305.95,111.07 307.37,110.47 308.75,109.85 310.09,109.20 311.39,108.53 312.65,107.83 313.88,107.12 315.06,106.38 316.20,105.62 317.30,104.84 318.36,104.04 319.38,103.23 320.36,102.40 321.31,101.57 322.21,100.71 323.07,99.85 323.89,98.98 324.67,98.10 325.41,97.22 326.11,96.33 326.77,95.43 327.39,94.53 327.97,93.62 328.52,92.71 329.02,91.80 329.48,90.89 329.90,89.98 330.28,89.06 330.62,88.14 330.92,87.23 331.18,86.31 331.40,85.39 331.58,84.47 331.72,83.55 331.82,82.64 331.88,81.72 331.90,80.80" stroke="#2a3778" stroke-width="2.0" stroke-linejoin="round"/>
<polyline points="48.30,167.90 52.04,167.90 55.74,167.90 59.42,167.90 63.06,167.90 66.67,167.90 70.25,167.90 73.80,167.90 77.31,167.90 80.80,167.90 84.25,167.90 87.67,167.90 91.06,167.90 94.42,167.90 97.75,167.90 101.05,167.90 104.31,167.90 107.54,167.90 110.74,167.90 113.91,167.90 117.05,167.90 120.16,167.90 123.23,167.90 126.28,167.90 129.29,167.90 132.27,167.90 135.22,167.90 138.13,167.90 141.02,167.90 143.87,167.90 146.70,167.90 149.49,167.90 152.25,167.90 154.97,167.90 157.67,167.90 160.34,167.90 162.97,167.90 165.57,167.90 168.14,167.90 170.68,167.90 173.19,167.90 175.66,167.90 178.11,167.90 180.52,167.91 182.90,167.91 185.25,167.91 187.57,167.91 189.86,167.91 192.11,167.91 194.33,167.92 196.53,167.92 198.69,167.93 200.81,167.93 202.91,167.94 204.98,167.94 207.01,167.95 209.01,167.96 210.99,167.97 212.92,167.98 214.83,167.99 216.71,168.00 218.55,168.02 220.37,168.03 222.15,168.05 223.90,168.07 225.62,168.09 227.31,168.11 228.96,168.13 230.59,168.16 232.18,168.18 233.74,168.21 235.27,168.24 236.77,168.28 238.23,168.31 239.67,168.35 241.07,168.38 242.44,168.43 243.78,168.47 245.09,168.51 246.37,168.56 247.62,168.60 248.83,168.65 250.01,168.70 251.16,168.76 252.28,168.81 253.37,168.87 254.43,168.92 255.45,168.98 256.45,169.04 257.41,169.10 258.34,169.17 259.24,169.23 260.10,169.30 260.94,169.36 261.74,169.43 262.52,169.50 263.26,169.57 263.97,169.64 264.65,169.71 265.29,169.78 265.91,169.85 266.49,169.92 267.04,170.00 267.56,170.07 268.05,170.15 268.51,170.22 268.94,170.30 269.33,170.37 269.69,170.45 270.02,170.52 270.32,170.60 270.59,170.68 270.83,170.76 271.03,170.83 271.21,170.91 271.35,170.99 271.46,171.07 271.54,171.14 271.58,171.22 271.60,171.30" stroke="#2a3778" stroke-width="2.0" stroke-linejoin="round"/>
<polyline points="48.30,159.50 52.20,159.50 56.07,159.50 59.91,159.50 63.71,159.50 67.48,159.50 71.22,159.50 74.93,159.50 78.60,159.50 82.24,159.50 85.85,159.50 89.42,159.50 92.96,159.50 96.47,159.50 99.94,159.50 103.38,159.50 106.79,159.50 110.17,159.50 113.51,159.50 116.82,159.50 120.10,159.50 123.34,159.50 126.55,159.50 129.73,159.50 132.88,159.50 135.99,159.50 139.07,159.50 142.12,159.50 145.13,159.50 148.11,159.50 151.06,159.50 153.97,159.50 156.86,159.50 159.70,159.50 162.52,159.50 165.30,159.50 168.05,159.50 170.77,159.50 173.46,159.50 176.11,159.50 178.72,159.50 181.31,159.50 183.86,159.50 186.38,159.50 188.87,159.50 191.32,159.50 193.74,159.50 196.13,159.50 198.49,159.50 200.81,159.50 203.10,159.50 205.35,159.50 207.58,159.50 209.77,159.50 211.92,159.50 214.05,159.51 216.14,159.51 218.20,159.51 220.22,159.52 222.22,159.52 224.18,159.53 226.10,159.54 228.00,159.55 229.86,159.56 231.69,159.58 233.48,159.60 235.24,159.62 236.97,159.64 238.67,159.68 240.33,159.71 241.96,159.76 243.56,159.80 245.12,159.86 246.65,159.92 248.15,159.99 249.62,160.07 251.05,160.16 252.45,160.26 253.82,160.36 255.15,160.48 256.45,160.61 257.72,160.74 258.96,160.89 260.16,161.04 261.33,161.21 262.46,161.39 263.57,161.57 264.64,161.77 265.67,161.98 266.68,162.19 267.65,162.42 268.59,162.65 269.50,162.89 270.37,163.14 271.21,163.40 272.01,163.67 272.79,163.94 273.53,164.22 274.24,164.51 274.91,164.80 275.56,165.09 276.16,165.40 276.74,165.70 277.28,166.01 277.79,166.33 278.27,166.64 278.72,166.97 279.13,167.29 279.51,167.62 279.85,167.94 280.17,168.27 280.45,168.61 280.69,168.94 280.91,169.27 281.09,169.61 281.24,169.95 281.35,170.28 281.43,170.62 281.48,170.96 281.50,171.30" stroke="#2a3778" stroke-width="2.0" stroke-linejoin="round"/>
<polyline points="48.30,151.10 52.31,151.10 56.28,151.10 60.22,151.10 64.13,151.10 68.00,151.10 71.84,151.10 75.65,151.10 79.42,151.10 83.16,151.10 86.86,151.10 90.53,151.10 94.17,151.10 97.77,151.10 101.34,151.10 104.87,151.10 108.37,151.10 111.84,151.10 115.27,151.10 118.67,151.10 122.04,151.10 125.37,151.10 128.67,151.10 131.93,151.10 135.16,151.10 138.36,151.10 141.52,151.10 144.65,151.10 147.75,151.10 150.81,151.10 153.83,151.10 156.83,151.10 159.79,151.10 162.71,151.10 165.61,151.10 168.46,151.10 171.29,151.11 174.08,151.11 176.84,151.11 179.56,151.11 182.25,151.11 184.90,151.12 187.52,151.12 190.11,151.12 192.67,151.13 195.19,151.13 197.67,151.14 200.12,151.15 202.54,151.16 204.93,151.17 207.28,151.18 209.60,151.19 211.88,151.21 214.13,151.23 216.34,151.25 218.53,151.27 220.67,151.30 222.79,151.33 224.87,151.37 226.91,151.40 228.93,151.45 230.91,151.50 232.85,151.55 234.76,151.61 236.64,151.67 238.48,151.74 240.29,151.82 242.07,151.91 243.81,152.00 245.52,152.10 247.19,152.21 248.83,152.33 250.44,152.46 252.01,152.59 253.55,152.74 255.06,152.90 256.53,153.07 257.97,153.25 259.37,153.44 260.74,153.64 262.08,153.86 263.38,154.09 264.65,154.33 265.88,154.58 267.08,154.84 268.25,155.12 269.38,155.42 270.48,155.72 271.55,156.04 272.58,156.37 273.58,156.72 274.54,157.08 275.47,157.45 276.37,157.83 277.23,158.23 278.06,158.64 278.85,159.06 279.61,159.50 280.34,159.94 281.03,160.40 281.69,160.87 282.32,161.35 282.91,161.84 283.47,162.34 283.99,162.86 284.49,163.38 284.94,163.90 285.36,164.44 285.75,164.99 286.11,165.54 286.43,166.09 286.72,166.66 286.97,167.23 287.19,167.80 287.38,168.38 287.53,168.96 287.65,169.54 287.73,170.13 287.78,170.71 287.80,171.30" stroke="#2a3778" stroke-width="2.0" stroke-linejoin="round"/>
<polyline points="48.30,142.70 52.44,142.70 56.54,142.70 60.61,142.70 64.65,142.70 68.64,142.70 72.61,142.70 76.54,142.70 80.43,142.70 84.29,142.70 88.12,142.70 91.91,142.70 95.66,142.70 99.38,142.70 103.07,142.70 106.72,142.70 110.33,142.70 113.91,142.70 117.46,142.70 120.97,142.70 124.44,142.70 127.88,142.70 131.29,142.71 134.66,142.71 137.99,142.71 141.29,142.71 144.56,142.71 147.79,142.71 150.99,142.71 154.15,142.72 157.27,142.72 160.36,142.72 163.42,142.73 166.44,142.73 169.43,142.74 172.38,142.74 175.29,142.75 178.18,142.75 181.02,142.76 183.83,142.77 186.61,142.78 189.35,142.79 192.06,142.80 194.73,142.82 197.37,142.83 199.97,142.85 202.54,142.87 205.07,142.89 207.57,142.92 210.03,142.94 212.46,142.97 214.85,143.01 217.21,143.04 219.53,143.08 221.82,143.13 224.07,143.18 226.29,143.23 228.47,143.29 230.62,143.36 232.73,143.43 234.81,143.50 236.85,143.59 238.86,143.68 240.83,143.77 242.77,143.88 244.68,143.99 246.55,144.12 248.38,144.25 250.18,144.39 251.94,144.55 253.67,144.71 255.36,144.89 257.02,145.08 258.65,145.28 260.24,145.49 261.79,145.72 263.31,145.96 264.79,146.21 266.24,146.48 267.66,146.77 269.04,147.07 270.38,147.39 271.69,147.72 272.97,148.07 274.21,148.44 275.41,148.82 276.58,149.23 277.72,149.65 278.82,150.08 279.88,150.54 280.91,151.01 281.91,151.51 282.87,152.02 283.79,152.55 284.69,153.09 285.54,153.66 286.36,154.24 287.15,154.84 287.90,155.45 288.61,156.09 289.30,156.74 289.94,157.40 290.55,158.08 291.13,158.78 291.67,159.49 292.18,160.21 292.65,160.94 293.09,161.69 293.49,162.45 293.85,163.22 294.19,164.00 294.48,164.79 294.74,165.59 294.97,166.39 295.16,167.20 295.32,168.01 295.44,168.83 295.53,169.65 295.58,170.48 295.60,171.30" stroke="#2a3778" stroke-width="2.0" stroke-linejoin="round"/>
<polyline points="48.30,134.30 52.70,134.30 57.06,134.30 61.38,134.30 65.66,134.30 69.91,134.30 74.12,134.30 78.30,134.30 82.43,134.30 86.53,134.30 90.60,134.30 94.62,134.30 98.61,134.30 102.56,134.30 106.48,134.30 110.35,134.30 114.19,134.30 118.00,134.30 121.76,134.30 125.49,134.30 129.18,134.30 132.84,134.30 136.45,134.30 140.03,134.30 143.58,134.31 147.08,134.31 150.55,134.31 153.98,134.31 157.38,134.31 160.74,134.32 164.06,134.32 167.34,134.32 170.59,134.33 173.80,134.34 176.97,134.34 180.10,134.35 183.20,134.36 186.26,134.37 189.29,134.39 192.27,134.40 195.22,134.42 198.14,134.44 201.01,134.46 203.85,134.49 206.65,134.52 209.41,134.55 212.14,134.59 214.83,134.63 217.48,134.68 220.10,134.73 222.68,134.79 225.22,134.86 227.72,134.93 230.19,135.01 232.62,135.09 235.02,135.19 237.37,135.30 239.69,135.41 241.97,135.53 244.22,135.67 246.42,135.81 248.59,135.97 250.73,136.14 252.82,136.32 254.88,136.52 256.91,136.73 258.89,136.95 260.84,137.19 262.75,137.45 264.62,137.71 266.46,138.00 268.26,138.30 270.02,138.62 271.75,138.95 273.43,139.30 275.09,139.67 276.70,140.06 278.28,140.46 279.82,140.89 281.32,141.33 282.78,141.79 284.21,142.26 285.60,142.76 286.96,143.27 288.28,143.81 289.56,144.36 290.80,144.92 292.00,145.51 293.17,146.11 294.30,146.73 295.40,147.37 296.46,148.03 297.48,148.70 298.46,149.39 299.41,150.09 300.31,150.81 301.19,151.54 302.02,152.29 302.82,153.05 303.58,153.83 304.30,154.62 304.99,155.42 305.64,156.23 306.25,157.06 306.83,157.90 307.36,158.74 307.86,159.60 308.33,160.46 308.76,161.34 309.14,162.22 309.50,163.11 309.81,164.00 310.09,164.90 310.33,165.81 310.54,166.71 310.70,167.63 310.83,168.54 310.93,169.46 310.98,170.38 311.00,171.30" stroke="#2a3778" stroke-width="2.0" stroke-linejoin="round"/>
<polyline points="48.30,125.90 53.48,125.90 58.62,125.90 63.72,125.90 68.77,125.90 73.78,125.90 78.74,125.90 83.66,125.90 88.54,125.90 93.37,125.90 98.16,125.90 102.91,125.90 107.61,125.90 112.27,125.90 116.88,125.90 121.45,125.90 125.98,125.90 130.47,125.90 134.90,125.90 139.30,125.90 143.65,125.90 147.96,125.90 152.23,125.91 156.45,125.91 160.62,125.91 164.76,125.91 168.85,125.92 172.89,125.92 176.90,125.93 180.85,125.94 184.77,125.95 188.64,125.96 192.47,125.97 196.25,125.99 199.99,126.01 203.69,126.03 207.34,126.06 210.95,126.10 214.51,126.13 218.03,126.18 221.51,126.23 224.94,126.29 228.33,126.36 231.68,126.43 234.98,126.52 238.24,126.62 241.46,126.73 244.63,126.85 247.75,126.98 250.84,127.13 253.88,127.29 256.87,127.47 259.83,127.67 262.73,127.88 265.60,128.11 268.42,128.36 271.20,128.63 273.93,128.91 276.62,129.22 279.27,129.54 281.87,129.89 284.43,130.25 286.94,130.64 289.42,131.05 291.84,131.47 294.23,131.92 296.57,132.39 298.86,132.88 301.12,133.38 303.33,133.91 305.49,134.45 307.61,135.02 309.69,135.60 311.72,136.19 313.71,136.81 315.66,137.44 317.56,138.08 319.42,138.74 321.24,139.41 323.01,140.09 324.74,140.79 326.42,141.50 328.06,142.22 329.66,142.95 331.21,143.68 332.72,144.43 334.18,145.18 335.61,145.94 336.98,146.71 338.32,147.48 339.61,148.26 340.85,149.04 342.06,149.82 343.22,150.61 344.33,151.40 345.40,152.20 346.43,152.99 347.41,153.79 348.36,154.59 349.25,155.39 350.10,156.19 350.91,156.99 351.68,157.79 352.40,158.58 353.08,159.38 353.71,160.18 354.30,160.98 354.85,161.78 355.35,162.58 355.81,163.37 356.23,164.17 356.60,164.96 356.93,165.76 357.21,166.55 357.45,167.34 357.65,168.13 357.80,168.93 357.91,169.72 357.98,170.51 358.00,171.30" stroke="#dc3024" stroke-width="4.2" stroke-linejoin="round"/>
</g>
<rect x="48.3" y="80.8" width="327.00" height="90.50" fill="none" stroke="#3e3e38" stroke-width="2.0"/>
<rect x="48.3" y="63.0" width="235.10" height="17.80" fill="#5e78b8" stroke="#333a55" stroke-width="2.0"/>
<rect x="48.3" y="172.4" width="235.10" height="17.4" fill="#d06b6e" stroke="#4a3838" stroke-width="2.0"/>
<rect x="375.3" y="116.8" width="18.2" height="18.9" fill="#d06b6e" stroke="#3a2a2a" stroke-width="2.0"/>
<text x="292.67" y="72.3" font-size="30.5">WE</text>
<text x="397.72" y="135.3" font-size="30.5">RE</text>
<text x="290.35" y="202" font-size="30.5">CE</text>
</g>
<g stroke="#d6d6d6" stroke-width="1.8">
<line x1="152.0" y1="688.30" x2="1246.4" y2="688.30"/>
<line x1="152.0" y1="655.10" x2="1246.4" y2="655.10"/>
<line x1="152.0" y1="621.90" x2="1246.4" y2="621.90"/>
<line x1="152.0" y1="588.70" x2="1246.4" y2="588.70"/>
<line x1="152.0" y1="555.50" x2="1246.4" y2="555.50"/>
<line x1="152.0" y1="522.30" x2="1246.4" y2="522.30"/>
<line x1="152.0" y1="489.30" x2="1246.4" y2="489.30"/>
<line x1="152.0" y1="456.30" x2="1246.4" y2="456.30"/>
<line x1="152.0" y1="423.30" x2="1246.4" y2="423.30"/>
<line x1="152.0" y1="390.30" x2="1246.4" y2="390.30"/>
<line x1="152.0" y1="357.30" x2="1246.4" y2="357.30"/>
</g>
<g stroke="#c8c8c8" stroke-width="1.8">
<line x1="161.80" y1="342.4" x2="161.80" y2="693.3"/>
<line x1="208.07" y1="342.4" x2="208.07" y2="693.3"/>
<line x1="235.13" y1="342.4" x2="235.13" y2="693.3"/>
<line x1="254.34" y1="342.4" x2="254.34" y2="693.3"/>
<line x1="269.23" y1="342.4" x2="269.23" y2="693.3"/>
<line x1="281.40" y1="342.4" x2="281.40" y2="693.3"/>
<line x1="291.69" y1="342.4" x2="291.69" y2="693.3"/>
<line x1="300.60" y1="342.4" x2="300.60" y2="693.3"/>
<line x1="308.47" y1="342.4" x2="308.47" y2="693.3"/>
<line x1="315.50" y1="342.4" x2="315.50" y2="693.3"/>
<line x1="361.89" y1="342.4" x2="361.89" y2="693.3"/>
<line x1="389.02" y1="342.4" x2="389.02" y2="693.3"/>
<line x1="408.28" y1="342.4" x2="408.28" y2="693.3"/>
<line x1="423.21" y1="342.4" x2="423.21" y2="693.3"/>
<line x1="435.41" y1="342.4" x2="435.41" y2="693.3"/>
<line x1="445.73" y1="342.4" x2="445.73" y2="693.3"/>
<line x1="454.67" y1="342.4" x2="454.67" y2="693.3"/>
<line x1="462.55" y1="342.4" x2="462.55" y2="693.3"/>
<line x1="469.60" y1="342.4" x2="469.60" y2="693.3"/>
<line x1="515.78" y1="342.4" x2="515.78" y2="693.3"/>
<line x1="542.79" y1="342.4" x2="542.79" y2="693.3"/>
<line x1="561.96" y1="342.4" x2="561.96" y2="693.3"/>
<line x1="576.82" y1="342.4" x2="576.82" y2="693.3"/>
<line x1="588.97" y1="342.4" x2="588.97" y2="693.3"/>
<line x1="599.24" y1="342.4" x2="599.24" y2="693.3"/>
<line x1="608.13" y1="342.4" x2="608.13" y2="693.3"/>
<line x1="615.98" y1="342.4" x2="615.98" y2="693.3"/>
<line x1="623.00" y1="342.4" x2="623.00" y2="693.3"/>
<line x1="669.03" y1="342.4" x2="669.03" y2="693.3"/>
<line x1="695.95" y1="342.4" x2="695.95" y2="693.3"/>
<line x1="715.05" y1="342.4" x2="715.05" y2="693.3"/>
<line x1="729.87" y1="342.4" x2="729.87" y2="693.3"/>
<line x1="741.98" y1="342.4" x2="741.98" y2="693.3"/>
<line x1="752.22" y1="342.4" x2="752.22" y2="693.3"/>
<line x1="761.08" y1="342.4" x2="761.08" y2="693.3"/>
<line x1="768.90" y1="342.4" x2="768.90" y2="693.3"/>
<line x1="775.90" y1="342.4" x2="775.90" y2="693.3"/>
<line x1="821.96" y1="342.4" x2="821.96" y2="693.3"/>
<line x1="848.90" y1="342.4" x2="848.90" y2="693.3"/>
<line x1="868.02" y1="342.4" x2="868.02" y2="693.3"/>
<line x1="882.84" y1="342.4" x2="882.84" y2="693.3"/>
<line x1="894.96" y1="342.4" x2="894.96" y2="693.3"/>
<line x1="905.20" y1="342.4" x2="905.20" y2="693.3"/>
<line x1="914.07" y1="342.4" x2="914.07" y2="693.3"/>
<line x1="921.90" y1="342.4" x2="921.90" y2="693.3"/>
<line x1="928.90" y1="342.4" x2="928.90" y2="693.3"/>
<line x1="974.96" y1="342.4" x2="974.96" y2="693.3"/>
<line x1="1001.90" y1="342.4" x2="1001.90" y2="693.3"/>
<line x1="1021.02" y1="342.4" x2="1021.02" y2="693.3"/>
<line x1="1035.84" y1="342.4" x2="1035.84" y2="693.3"/>
<line x1="1047.96" y1="342.4" x2="1047.96" y2="693.3"/>
<line x1="1058.20" y1="342.4" x2="1058.20" y2="693.3"/>
<line x1="1067.07" y1="342.4" x2="1067.07" y2="693.3"/>
<line x1="1074.90" y1="342.4" x2="1074.90" y2="693.3"/>
<line x1="1081.90" y1="342.4" x2="1081.90" y2="693.3"/>
<line x1="1128.26" y1="342.4" x2="1128.26" y2="693.3"/>
<line x1="1155.38" y1="342.4" x2="1155.38" y2="693.3"/>
<line x1="1174.62" y1="342.4" x2="1174.62" y2="693.3"/>
<line x1="1189.54" y1="342.4" x2="1189.54" y2="693.3"/>
<line x1="1201.74" y1="342.4" x2="1201.74" y2="693.3"/>
<line x1="1212.05" y1="342.4" x2="1212.05" y2="693.3"/>
<line x1="1220.98" y1="342.4" x2="1220.98" y2="693.3"/>
<line x1="1228.85" y1="342.4" x2="1228.85" y2="693.3"/>
<line x1="1235.90" y1="342.4" x2="1235.90" y2="693.3"/>
</g>
<g stroke="#1e1e1e" stroke-width="2">
<line x1="161.80" y1="693.3" x2="161.80" y2="687.0999999999999"/>
<line x1="161.80" y1="342.4" x2="161.80" y2="348.59999999999997"/>
<line x1="208.07" y1="693.3" x2="208.07" y2="687.0999999999999"/>
<line x1="208.07" y1="342.4" x2="208.07" y2="348.59999999999997"/>
<line x1="235.13" y1="693.3" x2="235.13" y2="687.0999999999999"/>
<line x1="235.13" y1="342.4" x2="235.13" y2="348.59999999999997"/>
<line x1="254.34" y1="693.3" x2="254.34" y2="687.0999999999999"/>
<line x1="254.34" y1="342.4" x2="254.34" y2="348.59999999999997"/>
<line x1="269.23" y1="693.3" x2="269.23" y2="687.0999999999999"/>
<line x1="269.23" y1="342.4" x2="269.23" y2="348.59999999999997"/>
<line x1="281.40" y1="693.3" x2="281.40" y2="687.0999999999999"/>
<line x1="281.40" y1="342.4" x2="281.40" y2="348.59999999999997"/>
<line x1="291.69" y1="693.3" x2="291.69" y2="687.0999999999999"/>
<line x1="291.69" y1="342.4" x2="291.69" y2="348.59999999999997"/>
<line x1="300.60" y1="693.3" x2="300.60" y2="687.0999999999999"/>
<line x1="300.60" y1="342.4" x2="300.60" y2="348.59999999999997"/>
<line x1="308.47" y1="693.3" x2="308.47" y2="687.0999999999999"/>
<line x1="308.47" y1="342.4" x2="308.47" y2="348.59999999999997"/>
<line x1="315.50" y1="693.3" x2="315.50" y2="687.0999999999999"/>
<line x1="315.50" y1="342.4" x2="315.50" y2="348.59999999999997"/>
<line x1="361.89" y1="693.3" x2="361.89" y2="687.0999999999999"/>
<line x1="361.89" y1="342.4" x2="361.89" y2="348.59999999999997"/>
<line x1="389.02" y1="693.3" x2="389.02" y2="687.0999999999999"/>
<line x1="389.02" y1="342.4" x2="389.02" y2="348.59999999999997"/>
<line x1="408.28" y1="693.3" x2="408.28" y2="687.0999999999999"/>
<line x1="408.28" y1="342.4" x2="408.28" y2="348.59999999999997"/>
<line x1="423.21" y1="693.3" x2="423.21" y2="687.0999999999999"/>
<line x1="423.21" y1="342.4" x2="423.21" y2="348.59999999999997"/>
<line x1="435.41" y1="693.3" x2="435.41" y2="687.0999999999999"/>
<line x1="435.41" y1="342.4" x2="435.41" y2="348.59999999999997"/>
<line x1="445.73" y1="693.3" x2="445.73" y2="687.0999999999999"/>
<line x1="445.73" y1="342.4" x2="445.73" y2="348.59999999999997"/>
<line x1="454.67" y1="693.3" x2="454.67" y2="687.0999999999999"/>
<line x1="454.67" y1="342.4" x2="454.67" y2="348.59999999999997"/>
<line x1="462.55" y1="693.3" x2="462.55" y2="687.0999999999999"/>
<line x1="462.55" y1="342.4" x2="462.55" y2="348.59999999999997"/>
<line x1="469.60" y1="693.3" x2="469.60" y2="687.0999999999999"/>
<line x1="469.60" y1="342.4" x2="469.60" y2="348.59999999999997"/>
<line x1="515.78" y1="693.3" x2="515.78" y2="687.0999999999999"/>
<line x1="515.78" y1="342.4" x2="515.78" y2="348.59999999999997"/>
<line x1="542.79" y1="693.3" x2="542.79" y2="687.0999999999999"/>
<line x1="542.79" y1="342.4" x2="542.79" y2="348.59999999999997"/>
<line x1="561.96" y1="693.3" x2="561.96" y2="687.0999999999999"/>
<line x1="561.96" y1="342.4" x2="561.96" y2="348.59999999999997"/>
<line x1="576.82" y1="693.3" x2="576.82" y2="687.0999999999999"/>
<line x1="576.82" y1="342.4" x2="576.82" y2="348.59999999999997"/>
<line x1="588.97" y1="693.3" x2="588.97" y2="687.0999999999999"/>
<line x1="588.97" y1="342.4" x2="588.97" y2="348.59999999999997"/>
<line x1="599.24" y1="693.3" x2="599.24" y2="687.0999999999999"/>
<line x1="599.24" y1="342.4" x2="599.24" y2="348.59999999999997"/>
<line x1="608.13" y1="693.3" x2="608.13" y2="687.0999999999999"/>
<line x1="608.13" y1="342.4" x2="608.13" y2="348.59999999999997"/>
<line x1="615.98" y1="693.3" x2="615.98" y2="687.0999999999999"/>
<line x1="615.98" y1="342.4" x2="615.98" y2="348.59999999999997"/>
<line x1="623.00" y1="693.3" x2="623.00" y2="687.0999999999999"/>
<line x1="623.00" y1="342.4" x2="623.00" y2="348.59999999999997"/>
<line x1="669.03" y1="693.3" x2="669.03" y2="687.0999999999999"/>
<line x1="669.03" y1="342.4" x2="669.03" y2="348.59999999999997"/>
<line x1="695.95" y1="693.3" x2="695.95" y2="687.0999999999999"/>
<line x1="695.95" y1="342.4" x2="695.95" y2="348.59999999999997"/>
<line x1="715.05" y1="693.3" x2="715.05" y2="687.0999999999999"/>
<line x1="715.05" y1="342.4" x2="715.05" y2="348.59999999999997"/>
<line x1="729.87" y1="693.3" x2="729.87" y2="687.0999999999999"/>
<line x1="729.87" y1="342.4" x2="729.87" y2="348.59999999999997"/>
<line x1="741.98" y1="693.3" x2="741.98" y2="687.0999999999999"/>
<line x1="741.98" y1="342.4" x2="741.98" y2="348.59999999999997"/>
<line x1="752.22" y1="693.3" x2="752.22" y2="687.0999999999999"/>
<line x1="752.22" y1="342.4" x2="752.22" y2="348.59999999999997"/>
<line x1="761.08" y1="693.3" x2="761.08" y2="687.0999999999999"/>
<line x1="761.08" y1="342.4" x2="761.08" y2="348.59999999999997"/>
<line x1="768.90" y1="693.3" x2="768.90" y2="687.0999999999999"/>
<line x1="768.90" y1="342.4" x2="768.90" y2="348.59999999999997"/>
<line x1="775.90" y1="693.3" x2="775.90" y2="687.0999999999999"/>
<line x1="775.90" y1="342.4" x2="775.90" y2="348.59999999999997"/>
<line x1="821.96" y1="693.3" x2="821.96" y2="687.0999999999999"/>
<line x1="821.96" y1="342.4" x2="821.96" y2="348.59999999999997"/>
<line x1="848.90" y1="693.3" x2="848.90" y2="687.0999999999999"/>
<line x1="848.90" y1="342.4" x2="848.90" y2="348.59999999999997"/>
<line x1="868.02" y1="693.3" x2="868.02" y2="687.0999999999999"/>
<line x1="868.02" y1="342.4" x2="868.02" y2="348.59999999999997"/>
<line x1="882.84" y1="693.3" x2="882.84" y2="687.0999999999999"/>
<line x1="882.84" y1="342.4" x2="882.84" y2="348.59999999999997"/>
<line x1="894.96" y1="693.3" x2="894.96" y2="687.0999999999999"/>
<line x1="894.96" y1="342.4" x2="894.96" y2="348.59999999999997"/>
<line x1="905.20" y1="693.3" x2="905.20" y2="687.0999999999999"/>
<line x1="905.20" y1="342.4" x2="905.20" y2="348.59999999999997"/>
<line x1="914.07" y1="693.3" x2="914.07" y2="687.0999999999999"/>
<line x1="914.07" y1="342.4" x2="914.07" y2="348.59999999999997"/>
<line x1="921.90" y1="693.3" x2="921.90" y2="687.0999999999999"/>
<line x1="921.90" y1="342.4" x2="921.90" y2="348.59999999999997"/>
<line x1="928.90" y1="693.3" x2="928.90" y2="687.0999999999999"/>
<line x1="928.90" y1="342.4" x2="928.90" y2="348.59999999999997"/>
<line x1="974.96" y1="693.3" x2="974.96" y2="687.0999999999999"/>
<line x1="974.96" y1="342.4" x2="974.96" y2="348.59999999999997"/>
<line x1="1001.90" y1="693.3" x2="1001.90" y2="687.0999999999999"/>
<line x1="1001.90" y1="342.4" x2="1001.90" y2="348.59999999999997"/>
<line x1="1021.02" y1="693.3" x2="1021.02" y2="687.0999999999999"/>
<line x1="1021.02" y1="342.4" x2="1021.02" y2="348.59999999999997"/>
<line x1="1035.84" y1="693.3" x2="1035.84" y2="687.0999999999999"/>
<line x1="1035.84" y1="342.4" x2="1035.84" y2="348.59999999999997"/>
<line x1="1047.96" y1="693.3" x2="1047.96" y2="687.0999999999999"/>
<line x1="1047.96" y1="342.4" x2="1047.96" y2="348.59999999999997"/>
<line x1="1058.20" y1="693.3" x2="1058.20" y2="687.0999999999999"/>
<line x1="1058.20" y1="342.4" x2="1058.20" y2="348.59999999999997"/>
<line x1="1067.07" y1="693.3" x2="1067.07" y2="687.0999999999999"/>
<line x1="1067.07" y1="342.4" x2="1067.07" y2="348.59999999999997"/>
<line x1="1074.90" y1="693.3" x2="1074.90" y2="687.0999999999999"/>
<line x1="1074.90" y1="342.4" x2="1074.90" y2="348.59999999999997"/>
<line x1="1081.90" y1="693.3" x2="1081.90" y2="687.0999999999999"/>
<line x1="1081.90" y1="342.4" x2="1081.90" y2="348.59999999999997"/>
<line x1="1128.26" y1="693.3" x2="1128.26" y2="687.0999999999999"/>
<line x1="1128.26" y1="342.4" x2="1128.26" y2="348.59999999999997"/>
<line x1="1155.38" y1="693.3" x2="1155.38" y2="687.0999999999999"/>
<line x1="1155.38" y1="342.4" x2="1155.38" y2="348.59999999999997"/>
<line x1="1174.62" y1="693.3" x2="1174.62" y2="687.0999999999999"/>
<line x1="1174.62" y1="342.4" x2="1174.62" y2="348.59999999999997"/>
<line x1="1189.54" y1="693.3" x2="1189.54" y2="687.0999999999999"/>
<line x1="1189.54" y1="342.4" x2="1189.54" y2="348.59999999999997"/>
<line x1="1201.74" y1="693.3" x2="1201.74" y2="687.0999999999999"/>
<line x1="1201.74" y1="342.4" x2="1201.74" y2="348.59999999999997"/>
<line x1="1212.05" y1="693.3" x2="1212.05" y2="687.0999999999999"/>
<line x1="1212.05" y1="342.4" x2="1212.05" y2="348.59999999999997"/>
<line x1="1220.98" y1="693.3" x2="1220.98" y2="687.0999999999999"/>
<line x1="1220.98" y1="342.4" x2="1220.98" y2="348.59999999999997"/>
<line x1="1228.85" y1="693.3" x2="1228.85" y2="687.0999999999999"/>
<line x1="1228.85" y1="342.4" x2="1228.85" y2="348.59999999999997"/>
<line x1="1235.90" y1="693.3" x2="1235.90" y2="687.0999999999999"/>
<line x1="1235.90" y1="342.4" x2="1235.90" y2="348.59999999999997"/>
<line x1="152.0" y1="688.30" x2="158.2" y2="688.30"/>
<line x1="1246.4" y1="688.30" x2="1240.2" y2="688.30"/>
<line x1="152.0" y1="655.10" x2="158.2" y2="655.10"/>
<line x1="1246.4" y1="655.10" x2="1240.2" y2="655.10"/>
<line x1="152.0" y1="621.90" x2="158.2" y2="621.90"/>
<line x1="1246.4" y1="621.90" x2="1240.2" y2="621.90"/>
<line x1="152.0" y1="588.70" x2="158.2" y2="588.70"/>
<line x1="1246.4" y1="588.70" x2="1240.2" y2="588.70"/>
<line x1="152.0" y1="555.50" x2="158.2" y2="555.50"/>
<line x1="1246.4" y1="555.50" x2="1240.2" y2="555.50"/>
<line x1="152.0" y1="522.30" x2="158.2" y2="522.30"/>
<line x1="1246.4" y1="522.30" x2="1240.2" y2="522.30"/>
<line x1="152.0" y1="489.30" x2="158.2" y2="489.30"/>
<line x1="1246.4" y1="489.30" x2="1240.2" y2="489.30"/>
<line x1="152.0" y1="456.30" x2="158.2" y2="456.30"/>
<line x1="1246.4" y1="456.30" x2="1240.2" y2="456.30"/>
<line x1="152.0" y1="423.30" x2="158.2" y2="423.30"/>
<line x1="1246.4" y1="423.30" x2="1240.2" y2="423.30"/>
<line x1="152.0" y1="390.30" x2="158.2" y2="390.30"/>
<line x1="1246.4" y1="390.30" x2="1240.2" y2="390.30"/>
<line x1="152.0" y1="357.30" x2="158.2" y2="357.30"/>
<line x1="1246.4" y1="357.30" x2="1240.2" y2="357.30"/>
</g>
<rect x="152.0" y="342.4" width="1094.40" height="350.90" fill="none" stroke="#222" stroke-width="2.4"/>
<polyline points="161.70,360.60 163.49,360.60 165.28,360.60 167.08,360.60 168.87,360.60 170.66,360.60 172.45,360.60 174.24,360.60 176.03,360.60 177.83,360.60 179.62,360.60 181.41,360.60 183.20,360.60 184.99,360.60 186.79,360.60 188.58,360.60 190.37,360.60 192.16,360.60 193.95,360.60 195.74,360.60 197.54,360.60 199.33,360.59 201.12,360.59 202.91,360.59 204.70,360.59 206.50,360.59 208.29,360.59 210.08,360.59 211.87,360.59 213.66,360.59 215.45,360.59 217.25,360.59 219.04,360.59 220.83,360.59 222.62,360.59 224.41,360.59 226.21,360.58 228.00,360.58 229.79,360.58 231.58,360.58 233.37,360.58 235.16,360.58 236.96,360.58 238.75,360.58 240.54,360.58 242.33,360.58 244.12,360.58 245.92,360.57 247.71,360.57 249.50,360.57 251.29,360.57 253.08,360.57 254.87,360.57 256.67,360.57 258.46,360.57 260.25,360.56 262.04,360.56 263.83,360.56 265.63,360.56 267.42,360.56 269.21,360.56 271.00,360.56 272.79,360.56 274.58,360.55 276.38,360.55 278.17,360.55 279.96,360.55 281.75,360.55 283.54,360.55 285.34,360.54 287.13,360.54 288.92,360.54 290.71,360.54 292.50,360.54 294.29,360.54 296.09,360.53 297.88,360.53 299.67,360.53 301.46,360.53 303.25,360.53 305.05,360.53 306.84,360.52 308.63,360.52 310.42,360.52 312.21,360.52 314.00,360.52 315.80,360.51 317.59,360.51 319.38,360.51 321.17,360.51 322.96,360.51 324.76,360.50 326.55,360.50 328.34,360.50 330.13,360.50 331.92,360.50 333.71,360.49 335.51,360.49 337.30,360.49 339.09,360.49 340.88,360.49 342.67,360.48 344.47,360.48 346.26,360.48 348.05,360.48 349.84,360.47 351.63,360.47 353.42,360.47 355.22,360.47 357.01,360.46 358.80,360.46 360.59,360.46 362.38,360.46 364.18,360.45 365.97,360.45 367.76,360.45 369.55,360.45 371.34,360.44 373.13,360.44 374.93,360.44 376.72,360.44 378.51,360.43 380.30,360.43 382.09,360.43 383.89,360.43 385.68,360.42 387.47,360.42 389.26,360.42 391.05,360.41 392.84,360.41 394.64,360.41 396.43,360.41 398.22,360.40 400.01,360.40 401.80,360.40 403.60,360.39 405.39,360.39 407.18,360.38 408.97,360.38 410.76,360.37 412.55,360.37 414.35,360.36 416.14,360.36 417.93,360.35 419.72,360.34 421.51,360.34 423.31,360.33 425.10,360.32 426.89,360.31 428.68,360.30 430.47,360.30 432.26,360.29 434.06,360.28 435.85,360.27 437.64,360.26 439.43,360.25 441.22,360.24 443.02,360.23 444.81,360.22 446.60,360.21 448.39,360.20 450.18,360.19 451.97,360.18 453.77,360.17 455.56,360.15 457.35,360.14 459.14,360.13 460.93,360.12 462.73,360.11 464.52,360.10 466.31,360.09 468.10,360.08 469.89,360.06 471.68,360.05 473.48,360.04 475.27,360.03 477.06,360.02 478.85,360.01 480.64,360.00 482.44,359.98 484.23,359.97 486.02,359.96 487.81,359.95 489.60,359.94 491.39,359.93 493.19,359.92 494.98,359.90 496.77,359.89 498.56,359.88 500.35,359.87 502.15,359.86 503.94,359.84 505.73,359.83 507.52,359.82 509.31,359.81 511.10,359.79 512.90,359.78 514.69,359.77 516.48,359.75 518.27,359.74 520.06,359.73 521.86,359.71 523.65,359.70 525.44,359.69 527.23,359.67 529.02,359.66 530.81,359.64 532.61,359.63 534.40,359.61 536.19,359.60 537.98,359.58 539.77,359.56 541.57,359.55 543.36,359.53 545.15,359.51 546.94,359.50 548.73,359.48 550.52,359.46 552.32,359.44 554.11,359.42 555.90,359.41 557.69,359.39 559.48,359.37 561.28,359.35 563.07,359.33 564.86,359.31 566.65,359.29 568.44,359.27 570.23,359.24 572.03,359.22 573.82,359.20 575.61,359.18 577.40,359.15 579.19,359.13 580.99,359.11 582.78,359.08 584.57,359.05 586.36,359.03 588.15,359.00 589.94,358.97 591.74,358.94 593.53,358.91 595.32,358.88 597.11,358.85 598.90,358.81 600.70,358.78 602.49,358.74 604.28,358.70 606.07,358.66 607.86,358.62 609.65,358.57 611.45,358.53 613.24,358.48 615.03,358.43 616.82,358.38 618.61,358.33 620.41,358.27 622.20,358.21 623.99,358.14 625.78,358.06 627.57,357.97 629.36,357.86 631.16,357.74 632.95,357.61 634.74,357.46 636.53,357.31 638.32,357.15 640.12,356.98 641.91,356.80 643.70,356.62 645.49,356.43 647.28,356.24 649.07,356.04 650.87,355.84 652.66,355.64 654.45,355.44 656.24,355.24 658.03,355.04 659.83,354.84 661.62,354.65 663.41,354.46 665.20,354.27 666.99,354.09 668.78,353.91 670.58,353.75 672.37,353.59 674.16,353.43 675.95,353.27 677.74,353.12 679.54,352.97 681.33,352.81 683.12,352.66 684.91,352.50 686.70,352.34 688.49,352.17 690.29,352.00 692.08,351.81 693.87,351.62 695.66,351.42 697.45,351.20 699.25,350.97 701.04,350.71 702.83,350.45 704.62,350.18 706.41,349.91 708.21,349.64 710.00,349.37 711.79,349.12 713.58,348.88 715.37,348.66 717.16,348.44 718.96,348.23 720.75,348.02 722.54,347.81 724.33,347.62 726.12,347.44 727.92,347.27 729.71,347.12 731.50,346.99 733.29,346.85 735.08,346.72 736.87,346.59 738.67,346.46 740.46,346.34 742.25,346.22 744.04,346.11 745.83,346.00 747.63,345.90 749.42,345.80 751.21,345.71 753.00,345.63 754.79,345.56 756.58,345.50 758.38,345.44 760.17,345.40 761.96,345.36 763.75,345.32 765.54,345.28 767.34,345.24 769.13,345.21 770.92,345.18 772.71,345.15 774.50,345.13 776.29,345.11 778.09,345.10 779.88,345.10 781.67,345.11 783.46,345.15 785.25,345.22 787.05,345.31 788.84,345.42 790.63,345.55 792.42,345.69 794.21,345.85 796.00,346.01 797.80,346.18 799.59,346.36 801.38,346.55 803.17,346.79 804.96,347.07 806.76,347.38 808.55,347.73 810.34,348.11 812.13,348.51 813.92,348.95 815.71,349.46 817.51,350.03 819.30,350.65 821.09,351.31 822.88,352.01 824.67,352.73 826.47,353.48 828.26,354.23 830.05,354.99 831.84,355.75 833.63,356.50 835.42,357.26 837.22,358.04 839.01,358.84 840.80,359.67 842.59,360.53 844.38,361.45 846.18,362.42 847.97,363.45 849.76,364.55 851.55,365.74 853.34,367.05 855.13,368.47 856.93,369.99 858.72,371.61 860.51,373.31 862.30,375.09 864.09,376.94 865.89,378.84 867.68,380.80 869.47,382.82 871.26,384.96 873.05,387.25 874.84,389.66 876.64,392.18 878.43,394.80 880.22,397.50 882.01,400.27 883.80,403.08 885.60,405.98 887.39,408.99 889.18,412.11 890.97,415.35 892.76,418.68 894.55,422.13 896.35,425.68 898.14,429.37 899.93,433.29 901.72,437.39 903.51,441.62 905.31,445.91 907.10,450.21 908.89,454.44 910.68,458.55 912.47,462.59 914.26,466.58 916.06,470.56 917.85,474.52 919.64,478.49 921.43,482.49 923.22,486.54 925.02,490.65 926.81,494.83 928.60,499.13 930.39,503.56 932.18,508.09 933.97,512.67 935.77,517.28 937.56,521.87 939.35,526.41 941.14,530.85 942.93,535.15 944.73,539.40 946.52,543.63 948.31,547.82 950.10,551.95 951.89,556.01 953.68,559.97 955.48,563.82 957.27,567.53 959.06,571.10 960.85,574.58 962.64,577.99 964.44,581.32 966.23,584.56 968.02,587.74 969.81,590.83 971.60,593.85 973.39,596.79 975.19,599.66 976.98,602.47 978.77,605.23 980.56,607.95 982.35,610.61 984.15,613.22 985.94,615.76 987.73,618.24 989.52,620.64 991.31,622.96 993.10,625.20 994.90,627.35 996.69,629.46 998.48,631.56 1000.27,633.63 1002.06,635.67 1003.86,637.68 1005.65,639.64 1007.44,641.56 1009.23,643.41 1011.02,645.20 1012.81,646.92 1014.61,648.56 1016.40,650.11 1018.19,651.57 1019.98,652.93 1021.77,654.18 1023.57,655.37 1025.36,656.51 1027.15,657.60 1028.94,658.66 1030.73,659.67 1032.52,660.65 1034.32,661.59 1036.11,662.50 1037.90,663.38 1039.69,664.23 1041.48,665.06 1043.28,665.86 1045.07,666.63 1046.86,667.39 1048.65,668.13 1050.44,668.86 1052.23,669.57 1054.03,670.28 1055.82,670.98 1057.61,671.68 1059.40,672.36 1061.19,673.04 1062.99,673.70 1064.78,674.34 1066.57,674.96 1068.36,675.56 1070.15,676.14 1071.94,676.69 1073.74,677.20 1075.53,677.69 1077.32,678.14 1079.11,678.55 1080.90,678.92 1082.70,679.26 1084.49,679.59 1086.28,679.91 1088.07,680.21 1089.86,680.51 1091.65,680.80 1093.45,681.07 1095.24,681.34 1097.03,681.60 1098.82,681.85 1100.61,682.09 1102.41,682.33 1104.20,682.56 1105.99,682.78 1107.78,682.99 1109.57,683.19 1111.36,683.39 1113.16,683.59 1114.95,683.78 1116.74,683.96 1118.53,684.14 1120.32,684.31 1122.12,684.48 1123.91,684.64 1125.70,684.80 1127.49,684.96 1129.28,685.11 1131.07,685.26 1132.87,685.41 1134.66,685.55 1136.45,685.69 1138.24,685.83 1140.03,685.96 1141.83,686.09 1143.62,686.22 1145.41,686.35 1147.20,686.47 1148.99,686.59 1150.78,686.70 1152.58,686.82 1154.37,686.93 1156.16,687.04 1157.95,687.14 1159.74,687.25 1161.54,687.35 1163.33,687.44 1165.12,687.54 1166.91,687.63 1168.70,687.72 1170.49,687.81 1172.29,687.89 1174.08,687.97 1175.87,688.05 1177.66,688.13 1179.45,688.21 1181.25,688.29 1183.04,688.36 1184.83,688.44 1186.62,688.51 1188.41,688.59 1190.20,688.66 1192.00,688.73 1193.79,688.81 1195.58,688.88 1197.37,688.94 1199.16,689.01 1200.96,689.08 1202.75,689.14 1204.54,689.21 1206.33,689.27 1208.12,689.33 1209.91,689.39 1211.71,689.44 1213.50,689.50 1215.29,689.55 1217.08,689.60 1218.87,689.65 1220.67,689.70 1222.46,689.74 1224.25,689.79 1226.04,689.83 1227.83,689.87 1229.62,689.90 1231.42,689.94 1233.21,689.97 1235.00,690.00" fill="none" stroke="#34509e" stroke-width="3.0" stroke-linejoin="round"/>
<polygon points="624.7,355.0 624.6,352.2 624.9,349.4 625.7,346.8 626.9,344.4 628.6,342.4 630.6,340.6 633.0,339.2 635.5,337.9 638.1,336.8 640.7,335.8 643.3,334.8 645.9,334.0 648.5,333.2 651.1,332.5 653.7,331.9 656.3,331.4 658.9,330.9 661.6,330.4 664.2,330.0 666.9,329.7 669.5,329.4 672.2,329.1 674.9,328.9 677.6,328.7 680.3,328.5 683.0,328.4 685.8,328.3 688.5,328.2 691.2,328.1 693.9,328.1 696.6,328.0 699.3,328.0 702.0,327.9 704.7,327.9 707.4,327.9 710.1,327.9 712.8,327.9 715.5,327.9 718.2,328.0 720.9,328.0 723.6,328.1 726.3,328.2 729.0,328.3 731.7,328.4 734.4,328.6 737.1,328.8 739.8,329.0 742.5,329.2 745.2,329.4 747.9,329.7 750.6,330.0 753.3,330.3 756.0,330.7 758.6,331.0 761.3,331.4 764.0,331.8 766.7,332.3 769.3,332.7 772.0,333.1 774.7,333.5 777.3,333.9 780.0,334.3 782.7,334.7 785.4,335.0 788.1,335.4 790.8,335.7 793.5,336.0 796.1,336.4 798.8,336.8 801.5,337.2 804.2,337.6 806.8,338.1 809.4,338.6 812.1,339.2 814.7,339.8 817.3,340.5 819.9,341.2 822.5,342.0 825.1,342.8 827.7,343.6 830.2,344.5 832.8,345.3 835.4,346.1 838.0,347.0 840.5,347.8 843.1,348.6 845.7,349.3 848.3,350.1 850.9,350.9 853.5,351.6 856.1,352.3 858.7,353.1 861.3,353.9 863.9,354.6 866.5,355.4 869.1,356.3 871.6,357.1 874.2,358.0 876.7,359.0 879.2,359.9 881.7,360.9 884.2,362.0 886.7,363.0 889.1,364.1 891.6,365.2 894.1,366.3 896.6,367.4 899.0,368.5 901.5,369.7 904.0,370.8 906.5,372.0 908.9,373.1 911.4,374.3 913.8,375.5 916.3,376.7 918.6,378.0 921.0,379.4 923.3,380.7 925.5,382.2 927.7,383.7 929.8,385.3 931.8,387.0 933.8,388.7 935.8,390.6 937.8,392.5 939.7,394.6 941.6,396.7 943.4,399.0 944.8,401.3 945.5,403.8 945.5,406.4 944.7,409.0 943.4,411.6 941.6,413.8 939.6,415.7 937.4,417.2 935.0,418.5 932.4,419.5 929.8,420.4 927.1,421.1 924.5,421.8 921.8,422.3 919.1,422.9 916.5,423.4 913.8,423.8 911.2,424.2 908.5,424.6 905.8,424.9 903.2,425.2 900.5,425.5 897.8,425.8 895.1,426.1 892.4,426.3 889.7,426.6 887.0,426.8 884.3,427.0 881.6,427.1 878.9,427.3 876.2,427.4 873.5,427.5 870.8,427.5 868.1,427.5 865.4,427.5 862.7,427.5 860.0,427.5 857.3,427.4 854.6,427.3 851.9,427.2 849.2,427.1 846.5,426.9 843.8,426.8 841.1,426.7 838.4,426.5 835.7,426.4 833.0,426.2 830.3,426.1 827.6,425.9 824.9,425.7 822.2,425.5 819.5,425.3 816.8,425.0 814.1,424.8 811.4,424.5 808.7,424.2 806.1,423.8 803.4,423.5 800.7,423.1 798.0,422.7 795.4,422.3 792.7,421.9 790.0,421.5 787.3,421.0 784.7,420.6 782.0,420.1 779.3,419.7 776.7,419.2 774.0,418.8 771.4,418.3 768.7,417.8 766.0,417.4 763.4,416.9 760.7,416.4 758.1,415.9 755.4,415.5 752.7,415.0 750.1,414.5 747.4,414.0 744.7,413.5 742.1,413.0 739.4,412.5 736.8,412.0 734.1,411.4 731.5,410.9 728.8,410.3 726.2,409.7 723.6,409.1 721.0,408.4 718.4,407.7 715.7,407.0 713.1,406.3 710.5,405.6 708.0,404.8 705.4,404.0 702.8,403.2 700.2,402.3 697.6,401.5 695.1,400.6 692.5,399.7 690.0,398.8 687.4,397.9 684.9,397.0 682.3,396.0 679.8,395.0 677.3,394.0 674.8,393.0 672.4,391.9 669.9,390.8 667.5,389.6 665.1,388.4 662.7,387.2 660.3,386.0 657.9,384.7 655.5,383.4 653.1,382.1 650.8,380.8 648.4,379.4 646.0,378.1 643.6,376.8 641.3,375.4 639.0,374.0 636.7,372.5 634.5,370.9 632.5,369.1 630.6,367.2 628.9,365.1 627.4,362.8 626.1,360.3 625.2,357.7 624.7,355.0" fill="none" stroke="#e02a2a" stroke-width="3.8" stroke-linejoin="round"/>
</g>
<g filter="url(#bt)">
<text x="0.1" y="38" font-size="42.6">a) 0.1 Hz</text>
<text x="415.5" y="38" font-size="42.2">b) 1 kHz</text>
<text x="839.2" y="38.5" font-size="42.4">c) 100 kHz</text>
<text x="0" y="295.1" font-size="43">d)</text>
<text x="84.6" y="367.1" font-size="36">1.5</text>
<text x="84.6" y="537.9" font-size="36">1.0</text>
<text x="83.6" y="698" font-size="36">0.5</text>
<text x="136.83" y="729.6" font-size="36">10<tspan font-size="26.5" dy="-9.1">-1</tspan></text>
<text x="294.63" y="729.6" font-size="36">10<tspan font-size="26.5" dy="-9.1">0</tspan></text>
<text x="448.43" y="729.6" font-size="36">10<tspan font-size="26.5" dy="-9.1">1</tspan></text>
<text x="603.43" y="729.6" font-size="36">10<tspan font-size="26.5" dy="-9.1">2</tspan></text>
<text x="757.23" y="729.6" font-size="36">10<tspan font-size="26.5" dy="-9.1">3</tspan></text>
<text x="911.63" y="729.6" font-size="36">10<tspan font-size="26.5" dy="-9.1">4</tspan></text>
<text x="1066.03" y="729.6" font-size="36">10<tspan font-size="26.5" dy="-9.1">5</tspan></text>
<text x="1220.73" y="729.6" font-size="36">10<tspan font-size="26.5" dy="-9.1">6</tspan></text>
<text x="661.35" y="771.3" font-size="37">f / Hz</text>
<text transform="translate(52.1,574.98) rotate(-90)" x="0" y="0" font-size="37">U / mV</text>
</g>
</svg>
</body></html>
